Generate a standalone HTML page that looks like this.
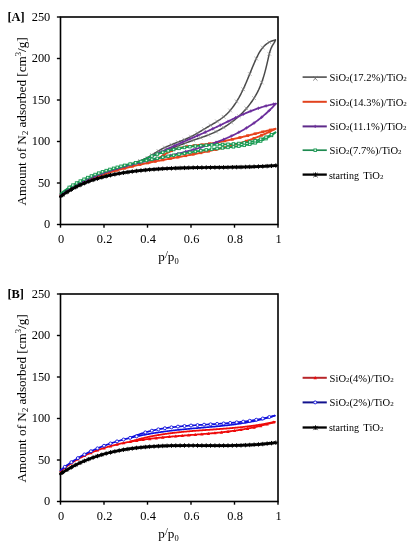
<!DOCTYPE html>
<html><head><meta charset="utf-8"><style>
html,body{margin:0;padding:0;background:#fff;}
body{width:413px;height:550px;overflow:hidden;}
svg{display:block;filter:blur(0.3px);}
text{font-family:"Liberation Serif","Times New Roman",serif;fill:#000;}
.tk{font-size:12.4px;}
.ax{font-size:13.2px;}
.sub{font-size:8.5px;}
.sup{font-size:8.5px;}
.sup2{font-size:10.5px;}
.tag{font-size:12.4px;font-weight:bold;}
.lg{font-size:10.55px;}
.ls{font-size:7px;}
</style></head><body>
<svg width="413" height="550" viewBox="0 0 413 550">
<rect width="413" height="550" fill="#fff"/>
<rect x="60.5" y="17.0" width="217.5" height="207.5" fill="none" stroke="#000" stroke-width="1.6"/>
<line x1="56.9" y1="224.5" x2="60.5" y2="224.5" stroke="#000" stroke-width="1.4"/>
<text x="50.3" y="228.10" text-anchor="end" class="tk">0</text>
<line x1="56.9" y1="183.0" x2="60.5" y2="183.0" stroke="#000" stroke-width="1.4"/>
<text x="50.3" y="186.60" text-anchor="end" class="tk">50</text>
<line x1="56.9" y1="141.5" x2="60.5" y2="141.5" stroke="#000" stroke-width="1.4"/>
<text x="50.3" y="145.10" text-anchor="end" class="tk">100</text>
<line x1="56.9" y1="100.0" x2="60.5" y2="100.0" stroke="#000" stroke-width="1.4"/>
<text x="50.3" y="103.60" text-anchor="end" class="tk">150</text>
<line x1="56.9" y1="58.5" x2="60.5" y2="58.5" stroke="#000" stroke-width="1.4"/>
<text x="50.3" y="62.10" text-anchor="end" class="tk">200</text>
<line x1="56.9" y1="17.0" x2="60.5" y2="17.0" stroke="#000" stroke-width="1.4"/>
<text x="50.3" y="20.60" text-anchor="end" class="tk">250</text>
<line x1="60.50" y1="224.5" x2="60.50" y2="227.7" stroke="#000" stroke-width="1.4"/>
<text x="60.50" y="242.80" dx="0.6" text-anchor="middle" class="tk">0</text>
<line x1="104.00" y1="224.5" x2="104.00" y2="227.7" stroke="#000" stroke-width="1.4"/>
<text x="104.00" y="242.80" dx="0.6" text-anchor="middle" class="tk">0.2</text>
<line x1="147.50" y1="224.5" x2="147.50" y2="227.7" stroke="#000" stroke-width="1.4"/>
<text x="147.50" y="242.80" dx="0.6" text-anchor="middle" class="tk">0.4</text>
<line x1="191.00" y1="224.5" x2="191.00" y2="227.7" stroke="#000" stroke-width="1.4"/>
<text x="191.00" y="242.80" dx="0.6" text-anchor="middle" class="tk">0.6</text>
<line x1="234.50" y1="224.5" x2="234.50" y2="227.7" stroke="#000" stroke-width="1.4"/>
<text x="234.50" y="242.80" dx="0.6" text-anchor="middle" class="tk">0.8</text>
<line x1="278.00" y1="224.5" x2="278.00" y2="227.7" stroke="#000" stroke-width="1.4"/>
<text x="278.00" y="242.80" dx="0.6" text-anchor="middle" class="tk">1</text>
<text x="158.3" y="260.90" class="ax">p<tspan class="sup2" dy="-2.6">/</tspan><tspan dy="2.6">p</tspan><tspan class="sub" dy="2.6">0</tspan></text>
<text transform="translate(25.9,121.35) rotate(-90)" text-anchor="middle" class="ax">Amount of N<tspan class="sub" dy="2.2">2</tspan><tspan dy="-2.2"> adsorbed [cm</tspan><tspan class="sup" dy="-4.6">3</tspan><tspan dy="4.6">/g]</tspan></text>
<text x="7.4" y="21.40" class="tag">[A]</text>
<polyline points="60.50,195.03 61.46,194.16 62.44,193.31 63.43,192.49 64.45,191.70 65.47,190.93 66.51,190.19 67.57,189.47 68.64,188.77 69.72,188.09 70.82,187.43 71.92,186.80 73.04,186.18 74.17,185.58 75.31,184.99 76.45,184.42 77.61,183.87 78.77,183.32 79.95,182.80 81.13,182.28 82.31,181.78 83.50,181.28 84.70,180.80 85.90,180.32 87.10,179.85 88.31,179.39 89.52,178.93 90.73,178.48 91.95,178.03 93.16,177.59 94.38,177.14 95.59,176.70 96.81,176.26 98.03,175.82 99.25,175.39 100.46,174.95 101.68,174.52 102.90,174.08 104.12,173.65 105.33,173.22 106.55,172.79 107.77,172.36 108.99,171.94 110.20,171.51 111.42,171.08 112.64,170.65 113.86,170.23 115.07,169.80 116.29,169.37 117.51,168.95 118.72,168.52 119.94,168.09 121.15,167.66 122.37,167.24 123.58,166.81 124.80,166.38 126.01,165.95 127.22,165.51 128.44,165.08 129.65,164.64 130.86,164.21 132.07,163.77 133.28,163.33 134.49,162.89 135.70,162.45 136.90,162.00 138.11,161.55 139.31,161.10 140.52,160.65 141.72,160.20 142.92,159.74 144.12,159.28 145.32,158.82 146.52,158.36 147.72,157.89 148.92,157.42 150.11,156.95 151.31,156.48 152.51,156.01 153.70,155.53 154.89,155.06 156.09,154.58 157.28,154.10 158.48,153.63 159.67,153.15 160.87,152.67 162.06,152.19 163.25,151.71 164.45,151.24 165.64,150.76 166.84,150.28 168.03,149.80 169.23,149.33 170.43,148.85 171.63,148.38 172.82,147.91 174.02,147.44 175.22,146.97 176.42,146.50 177.63,146.04 178.83,145.57 180.03,145.11 181.24,144.65 182.45,144.20 183.66,143.75 184.87,143.30 186.08,142.85 187.29,142.41 188.51,141.97 189.72,141.53 190.94,141.10 192.16,140.67 193.39,140.25 194.61,139.82 195.84,139.41 197.06,138.99 198.29,138.57 199.51,138.15 200.74,137.73 201.96,137.30 203.18,136.87 204.40,136.44 205.61,135.99 206.82,135.54 208.03,135.08 209.23,134.60 210.42,134.12 211.61,133.62 212.79,133.10 213.96,132.57 215.13,132.03 216.28,131.47 217.43,130.90 218.58,130.32 219.71,129.72 220.84,129.11 221.96,128.48 223.07,127.84 224.17,127.18 225.26,126.51 226.34,125.82 227.42,125.13 228.48,124.41 229.53,123.69 230.58,122.94 231.61,122.19 232.64,121.42 233.65,120.63 234.66,119.84 235.65,119.02 236.63,118.20 237.60,117.36 238.56,116.50 239.51,115.63 240.45,114.75 241.38,113.85 242.29,112.94 243.19,112.01 244.08,111.07 244.96,110.12 245.82,109.15 246.67,108.17 247.51,107.17 248.33,106.17 249.14,105.15 249.93,104.11 250.71,103.07 251.47,102.01 252.21,100.95 252.94,99.87 253.65,98.78 254.35,97.68 255.02,96.57 255.68,95.46 256.31,94.33 256.93,93.20 257.52,92.05 258.10,90.90 258.66,89.75 259.19,88.58 259.71,87.41 260.21,86.23 260.69,85.05 261.15,83.86 261.60,82.66 262.04,81.46 262.46,80.25 262.86,79.04 263.25,77.82 263.63,76.60 264.00,75.37 264.36,74.14 264.71,72.91 265.05,71.67 265.38,70.43 265.70,69.18 266.01,67.94 266.32,66.69 266.62,65.44 266.92,64.18 267.21,62.93 267.50,61.67 267.79,60.41 268.07,59.16 268.35,57.90 268.63,56.64 268.92,55.38 269.22,54.13 269.55,52.88 269.90,51.65 270.28,50.42 270.71,49.22 271.19,48.03 271.73,46.86 272.33,45.71 273.00,44.59 273.72,43.48 274.40,42.37 274.98,41.21 275.39,39.99" fill="none" stroke="#4a4a4a" stroke-width="1.5" stroke-linejoin="round" stroke-linecap="round"/>
<polyline points="138.80,161.30 139.65,161.04 140.48,160.77 141.31,160.47 142.12,160.15 142.93,159.82 143.72,159.47 144.51,159.10 145.29,158.72 146.07,158.32 146.83,157.92 147.59,157.50 148.35,157.07 149.10,156.63 149.85,156.19 150.59,155.74 151.33,155.29 152.07,154.83 152.81,154.36 153.54,153.90 154.28,153.44 155.02,152.97 155.75,152.51 156.49,152.05 157.24,151.60 157.98,151.15 158.73,150.71 159.48,150.28 160.24,149.85 161.00,149.44 161.77,149.03 162.54,148.63 163.32,148.24 164.10,147.86 164.88,147.49 165.67,147.13 166.47,146.77 167.26,146.41 168.06,146.07 168.86,145.73 169.67,145.39 170.48,145.06 171.29,144.73 172.10,144.40 172.91,144.08 173.72,143.76 174.54,143.44 175.36,143.13 176.17,142.81 176.99,142.50 177.81,142.18 178.63,141.87 179.44,141.55 180.26,141.23 181.08,140.92 181.89,140.60 182.71,140.27 183.52,139.95 184.33,139.62 185.14,139.28 185.94,138.94 186.75,138.60 187.55,138.25 188.34,137.90 189.14,137.54 189.93,137.17 190.72,136.79 191.50,136.41 192.28,136.02 193.06,135.62 193.83,135.21 194.59,134.79 195.35,134.37 196.11,133.94 196.87,133.50 197.62,133.06 198.38,132.62 199.13,132.17 199.87,131.72 200.62,131.26 201.37,130.81 202.11,130.35 202.86,129.89 203.60,129.43 204.35,128.98 205.10,128.52 205.85,128.07 206.60,127.62 207.35,127.17 208.11,126.73 208.86,126.29 209.62,125.86 210.38,125.42 211.14,124.99 211.90,124.55 212.66,124.12 213.41,123.68 214.17,123.24 214.92,122.80 215.66,122.35 216.41,121.89 217.15,121.43 217.88,120.96 218.61,120.48 219.33,120.00 220.05,119.51 220.76,119.01 221.46,118.50 222.16,117.98 222.85,117.45 223.53,116.91 224.20,116.36 224.86,115.80 225.52,115.22 226.16,114.63 226.80,114.03 227.42,113.42 228.04,112.79 228.64,112.15 229.24,111.50 229.82,110.83 230.39,110.16 230.96,109.48 231.51,108.79 232.06,108.09 232.59,107.39 233.12,106.68 233.64,105.97 234.14,105.25 234.64,104.53 235.13,103.81 235.62,103.08 236.09,102.35 236.56,101.61 237.02,100.87 237.47,100.12 237.92,99.37 238.35,98.62 238.79,97.87 239.21,97.11 239.63,96.35 240.04,95.58 240.45,94.81 240.85,94.04 241.25,93.27 241.64,92.49 242.02,91.71 242.40,90.93 242.78,90.14 243.15,89.36 243.52,88.57 243.88,87.78 244.24,86.98 244.60,86.19 244.95,85.39 245.30,84.59 245.65,83.79 246.00,82.99 246.34,82.19 246.68,81.38 247.02,80.57 247.35,79.77 247.69,78.96 248.02,78.15 248.36,77.34 248.69,76.53 249.02,75.72 249.35,74.90 249.68,74.09 250.01,73.28 250.34,72.47 250.67,71.65 251.01,70.84 251.34,70.02 251.67,69.21 252.01,68.40 252.34,67.58 252.68,66.77 253.02,65.96 253.36,65.15 253.71,64.34 254.05,63.53 254.40,62.72 254.76,61.91 255.11,61.10 255.47,60.30 255.83,59.49 256.20,58.69 256.57,57.89 256.95,57.10 257.34,56.30 257.73,55.52 258.13,54.74 258.54,53.97 258.96,53.21 259.39,52.45 259.83,51.71 260.29,50.98 260.76,50.26 261.24,49.56 261.75,48.87 262.26,48.20 262.80,47.55 263.35,46.91 263.92,46.29 264.51,45.69 265.12,45.12 265.76,44.56 266.42,44.03 267.10,43.52 267.80,43.04 268.53,42.58 269.29,42.15 270.07,41.75 270.89,41.38 271.73,41.04 272.60,40.73 273.50,40.45 274.43,40.20 275.40,39.99" fill="none" stroke="#4a4a4a" stroke-width="1.5" stroke-linejoin="round" stroke-linecap="round"/>
<path d="M69.47,185.21L73.28,189.01M69.47,189.01L73.28,185.21" stroke="#8a8a8a" stroke-width="0.6"/>
<path d="M77.09,181.33L80.89,185.13M77.09,185.13L80.89,181.33" stroke="#8a8a8a" stroke-width="0.6"/>
<path d="M84.70,178.15L88.50,181.95M84.70,181.95L88.50,178.15" stroke="#8a8a8a" stroke-width="0.6"/>
<path d="M92.31,175.30L96.11,179.10M92.31,179.10L96.11,175.30" stroke="#8a8a8a" stroke-width="0.6"/>
<path d="M99.92,172.57L103.73,176.37M99.92,176.37L103.73,172.57" stroke="#8a8a8a" stroke-width="0.6"/>
<path d="M107.54,169.88L111.34,173.68M107.54,173.68L111.34,169.88" stroke="#8a8a8a" stroke-width="0.6"/>
<path d="M115.15,167.21L118.95,171.01M115.15,171.01L118.95,167.21" stroke="#8a8a8a" stroke-width="0.6"/>
<path d="M122.76,164.52L126.56,168.32M122.76,168.32L126.56,164.52" stroke="#8a8a8a" stroke-width="0.6"/>
<path d="M130.38,161.80L134.18,165.60M130.38,165.60L134.18,161.80" stroke="#8a8a8a" stroke-width="0.6"/>
<path d="M137.99,158.99L141.79,162.79M137.99,162.79L141.79,158.99" stroke="#8a8a8a" stroke-width="0.6"/>
<path d="M145.60,156.07L149.40,159.87M145.60,159.87L149.40,156.07" stroke="#8a8a8a" stroke-width="0.6"/>
<path d="M153.21,153.07L157.01,156.87M153.21,156.87L157.01,153.07" stroke="#8a8a8a" stroke-width="0.6"/>
<path d="M160.83,150.03L164.63,153.83M160.83,153.83L164.63,150.03" stroke="#8a8a8a" stroke-width="0.6"/>
<path d="M168.44,146.99L172.24,150.79M168.44,150.79L172.24,146.99" stroke="#8a8a8a" stroke-width="0.6"/>
<path d="M176.05,144.01L179.85,147.81M176.05,147.81L179.85,144.01" stroke="#8a8a8a" stroke-width="0.6"/>
<path d="M183.66,141.14L187.46,144.94M183.66,144.94L187.46,141.14" stroke="#8a8a8a" stroke-width="0.6"/>
<path d="M191.28,138.42L195.08,142.22M191.28,142.22L195.08,138.42" stroke="#8a8a8a" stroke-width="0.6"/>
<path d="M198.89,135.81L202.69,139.61M198.89,139.61L202.69,135.81" stroke="#8a8a8a" stroke-width="0.6"/>
<path d="M206.50,133.03L210.30,136.83M206.50,136.83L210.30,133.03" stroke="#8a8a8a" stroke-width="0.6"/>
<path d="M214.11,129.70L217.91,133.50M214.11,133.50L217.91,129.70" stroke="#8a8a8a" stroke-width="0.6"/>
<path d="M221.73,125.60L225.53,129.40M221.73,129.40L225.53,125.60" stroke="#8a8a8a" stroke-width="0.6"/>
<path d="M229.34,120.56L233.14,124.36M229.34,124.36L233.14,120.56" stroke="#8a8a8a" stroke-width="0.6"/>
<path d="M236.95,114.34L240.75,118.14M236.95,118.14L240.75,114.34" stroke="#8a8a8a" stroke-width="0.6"/>
<path d="M244.56,106.51L248.36,110.31M244.56,110.31L248.36,106.51" stroke="#8a8a8a" stroke-width="0.6"/>
<path d="M252.18,96.21L255.98,100.01M252.18,100.01L255.98,96.21" stroke="#8a8a8a" stroke-width="0.6"/>
<path d="M259.79,80.53L263.59,84.33M259.79,84.33L263.59,80.53" stroke="#8a8a8a" stroke-width="0.6"/>
<path d="M267.40,51.93L271.20,55.73M267.40,55.73L271.20,51.93" stroke="#8a8a8a" stroke-width="0.6"/>
<path d="M149.95,153.06L153.75,156.86M149.95,156.86L153.75,153.06" stroke="#8a8a8a" stroke-width="0.6"/>
<path d="M156.47,149.02L160.28,152.82M156.47,152.82L160.28,149.02" stroke="#8a8a8a" stroke-width="0.6"/>
<path d="M163.00,145.58L166.80,149.38M163.00,149.38L166.80,145.58" stroke="#8a8a8a" stroke-width="0.6"/>
<path d="M169.52,142.77L173.32,146.57M169.52,146.57L173.32,142.77" stroke="#8a8a8a" stroke-width="0.6"/>
<path d="M176.05,140.23L179.85,144.03M176.05,144.03L179.85,140.23" stroke="#8a8a8a" stroke-width="0.6"/>
<path d="M182.57,137.66L186.37,141.46M182.57,141.46L186.37,137.66" stroke="#8a8a8a" stroke-width="0.6"/>
<path d="M189.10,134.75L192.90,138.55M189.10,138.55L192.90,134.75" stroke="#8a8a8a" stroke-width="0.6"/>
<path d="M195.62,131.22L199.42,135.02M195.62,135.02L199.42,131.22" stroke="#8a8a8a" stroke-width="0.6"/>
<path d="M202.15,127.26L205.95,131.06M202.15,131.06L205.95,127.26" stroke="#8a8a8a" stroke-width="0.6"/>
<path d="M208.67,123.41L212.47,127.21M208.67,127.21L212.47,123.41" stroke="#8a8a8a" stroke-width="0.6"/>
<path d="M215.20,119.56L219.00,123.36M215.20,123.36L219.00,119.56" stroke="#8a8a8a" stroke-width="0.6"/>
<path d="M221.72,114.93L225.52,118.73M221.72,118.73L225.52,114.93" stroke="#8a8a8a" stroke-width="0.6"/>
<path d="M228.25,108.55L232.05,112.35M228.25,112.35L232.05,108.55" stroke="#8a8a8a" stroke-width="0.6"/>
<path d="M234.77,99.52L238.57,103.32M234.77,103.32L238.57,99.52" stroke="#8a8a8a" stroke-width="0.6"/>
<path d="M241.30,87.35L245.10,91.15M241.30,91.15L245.10,87.35" stroke="#8a8a8a" stroke-width="0.6"/>
<path d="M247.82,72.08L251.62,75.88M247.82,75.88L251.62,72.08" stroke="#8a8a8a" stroke-width="0.6"/>
<path d="M254.35,56.69L258.15,60.49M254.35,60.49L258.15,56.69" stroke="#8a8a8a" stroke-width="0.6"/>
<path d="M260.87,45.67L264.67,49.47M260.87,49.47L264.67,45.67" stroke="#8a8a8a" stroke-width="0.6"/>
<path d="M267.40,40.25L271.20,44.05M267.40,44.05L271.20,40.25" stroke="#8a8a8a" stroke-width="0.6"/>
<polyline points="60.45,195.40 61.32,194.82 62.20,194.25 63.08,193.68 63.96,193.12 64.84,192.57 65.73,192.02 66.61,191.48 67.51,190.95 68.40,190.42 69.29,189.90 70.19,189.39 71.09,188.88 72.00,188.37 72.90,187.88 73.81,187.38 74.72,186.90 75.63,186.42 76.54,185.94 77.46,185.48 78.38,185.01 79.30,184.56 80.22,184.10 81.15,183.66 82.07,183.22 83.00,182.78 83.94,182.35 84.87,181.92 85.80,181.50 86.74,181.09 87.68,180.68 88.62,180.27 89.57,179.87 90.51,179.48 91.46,179.09 92.41,178.70 93.36,178.32 94.31,177.94 95.27,177.57 96.22,177.20 97.18,176.84 98.14,176.48 99.10,176.13 100.06,175.78 101.03,175.43 102.00,175.09 102.96,174.75 103.93,174.42 104.90,174.09 105.88,173.77 106.85,173.44 107.83,173.13 108.81,172.81 109.78,172.50 110.76,172.20 111.75,171.89 112.73,171.60 113.71,171.30 114.70,171.01 115.69,170.72 116.68,170.43 117.67,170.15 118.66,169.87 119.65,169.60 120.64,169.32 121.64,169.05 122.63,168.79 123.63,168.52 124.63,168.26 125.63,168.00 126.63,167.75 127.63,167.50 128.63,167.25 129.64,167.00 130.64,166.75 131.65,166.51 132.65,166.27 133.66,166.03 134.67,165.80 135.68,165.57 136.69,165.34 137.70,165.11 138.71,164.88 139.73,164.66 140.74,164.43 141.75,164.21 142.77,163.99 143.78,163.78 144.80,163.56 145.82,163.35 146.83,163.14 147.85,162.93 148.87,162.72 149.89,162.51 150.91,162.30 151.93,162.10 152.95,161.90 153.97,161.69 155.00,161.49 156.02,161.29 157.04,161.10 158.07,160.90 159.09,160.70 160.11,160.51 161.14,160.31 162.16,160.12 163.19,159.92 164.21,159.73 165.24,159.54 166.26,159.35 167.29,159.16 168.32,158.97 169.34,158.78 170.37,158.59 171.40,158.40 172.42,158.21 173.45,158.02 174.48,157.83 175.50,157.64 176.53,157.45 177.56,157.26 178.58,157.07 179.61,156.88 180.64,156.70 181.66,156.51 182.69,156.32 183.72,156.12 184.74,155.93 185.77,155.74 186.79,155.55 187.82,155.36 188.84,155.16 189.87,154.97 190.89,154.78 191.92,154.58 192.94,154.38 193.96,154.19 194.99,153.99 196.01,153.79 197.03,153.59 198.05,153.38 199.08,153.18 200.10,152.98 201.12,152.77 202.14,152.56 203.15,152.35 204.17,152.14 205.19,151.93 206.21,151.72 207.22,151.50 208.24,151.29 209.26,151.07 210.27,150.85 211.28,150.62 212.30,150.40 213.31,150.17 214.32,149.94 215.33,149.71 216.34,149.48 217.35,149.24 218.36,149.01 219.36,148.77 220.37,148.52 221.37,148.28 222.38,148.03 223.38,147.78 224.38,147.53 225.38,147.27 226.38,147.02 227.38,146.75 228.38,146.49 229.38,146.22 230.37,145.95 231.36,145.68 232.36,145.40 233.35,145.13 234.34,144.84 235.33,144.56 236.32,144.27 237.30,143.98 238.29,143.68 239.27,143.38 240.25,143.08 241.23,142.77 242.21,142.46 243.19,142.15 244.17,141.83 245.14,141.51 246.11,141.18 247.09,140.85 248.06,140.52 249.02,140.18 249.99,139.84 250.96,139.49 251.92,139.14 252.88,138.79 253.84,138.43 254.80,138.07 255.76,137.70 256.71,137.33 257.67,136.95 258.62,136.57 259.57,136.18 260.51,135.79 261.46,135.40 262.40,134.99 263.35,134.59 264.29,134.18 265.22,133.76 266.16,133.34 267.09,132.92 268.03,132.49 268.96,132.05 269.88,131.61 270.81,131.16 271.73,130.71 272.65,130.25 273.57,129.79 274.49,129.32 275.40,128.84" fill="none" stroke="#e8441c" stroke-width="1.9" stroke-linejoin="round" stroke-linecap="round"/>
<polyline points="148.61,162.82 149.17,162.64 149.72,162.46 150.27,162.26 150.81,162.05 151.36,161.83 151.89,161.61 152.43,161.37 152.96,161.13 153.48,160.88 154.01,160.62 154.53,160.36 155.05,160.09 155.57,159.81 156.08,159.53 156.60,159.24 157.11,158.95 157.62,158.66 158.13,158.36 158.64,158.07 159.14,157.76 159.65,157.46 160.16,157.15 160.66,156.84 161.17,156.54 161.67,156.23 162.18,155.92 162.68,155.61 163.19,155.30 163.70,154.99 164.20,154.69 164.71,154.38 165.22,154.08 165.73,153.78 166.25,153.49 166.76,153.20 167.28,152.91 167.79,152.63 168.31,152.35 168.84,152.07 169.36,151.80 169.89,151.54 170.42,151.29 170.95,151.04 171.49,150.79 172.03,150.56 172.57,150.33 173.11,150.11 173.66,149.90 174.22,149.69 174.77,149.49 175.33,149.30 175.89,149.11 176.45,148.93 177.02,148.76 177.58,148.59 178.15,148.42 178.73,148.27 179.30,148.11 179.88,147.96 180.46,147.82 181.04,147.68 181.63,147.55 182.21,147.42 182.80,147.30 183.39,147.18 183.98,147.06 184.58,146.95 185.17,146.84 185.77,146.74 186.37,146.63 186.97,146.54 187.57,146.44 188.17,146.35 188.77,146.26 189.38,146.17 189.98,146.09 190.59,146.00 191.20,145.92 191.81,145.85 192.42,145.77 193.03,145.69 193.64,145.62 194.25,145.55 194.86,145.48 195.47,145.41 196.09,145.34 196.70,145.27 197.31,145.20 197.93,145.13 198.54,145.06 199.16,144.99 199.77,144.92 200.39,144.86 201.00,144.79 201.61,144.72 202.23,144.65 202.84,144.57 203.45,144.50 204.06,144.43 204.68,144.35 205.29,144.27 205.90,144.19 206.51,144.11 207.12,144.03 207.72,143.95 208.33,143.86 208.94,143.77 209.55,143.68 210.15,143.59 210.76,143.50 211.36,143.41 211.97,143.31 212.57,143.22 213.18,143.12 213.78,143.02 214.38,142.92 214.98,142.82 215.58,142.71 216.19,142.61 216.79,142.50 217.39,142.39 217.99,142.28 218.58,142.17 219.18,142.06 219.78,141.95 220.38,141.84 220.98,141.72 221.57,141.61 222.17,141.49 222.77,141.37 223.36,141.25 223.96,141.13 224.55,141.01 225.15,140.89 225.74,140.76 226.34,140.64 226.93,140.51 227.52,140.39 228.12,140.26 228.71,140.13 229.30,140.00 229.89,139.87 230.49,139.74 231.08,139.61 231.67,139.47 232.26,139.34 232.85,139.21 233.44,139.07 234.03,138.93 234.62,138.80 235.21,138.66 235.80,138.52 236.39,138.38 236.98,138.25 237.57,138.11 238.16,137.97 238.75,137.82 239.34,137.68 239.93,137.54 240.52,137.40 241.11,137.25 241.70,137.11 242.29,136.97 242.87,136.82 243.46,136.68 244.05,136.53 244.64,136.39 245.23,136.24 245.82,136.09 246.40,135.95 246.99,135.80 247.58,135.65 248.17,135.51 248.76,135.36 249.35,135.21 249.93,135.06 250.52,134.92 251.11,134.77 251.70,134.62 252.29,134.47 252.88,134.32 253.47,134.17 254.05,134.02 254.64,133.87 255.23,133.73 255.82,133.58 256.41,133.43 257.00,133.28 257.59,133.13 258.18,132.98 258.77,132.83 259.36,132.69 259.95,132.54 260.54,132.39 261.13,132.24 261.72,132.10 262.31,131.95 262.91,131.80 263.50,131.65 264.09,131.51 264.68,131.36 265.27,131.22 265.87,131.07 266.46,130.93 267.05,130.78 267.65,130.64 268.24,130.49 268.83,130.35 269.43,130.21 270.02,130.06 270.62,129.92 271.21,129.78 271.81,129.64 272.41,129.50 273.00,129.36 273.60,129.22 274.20,129.08 274.80,128.95 275.39,128.81" fill="none" stroke="#e8441c" stroke-width="1.9" stroke-linejoin="round" stroke-linecap="round"/>
<path d="M69.88,188.72H72.88" stroke="#e8441c" stroke-width="2.6"/>
<path d="M77.49,184.71H80.49" stroke="#e8441c" stroke-width="2.6"/>
<path d="M85.10,181.15H88.10" stroke="#e8441c" stroke-width="2.6"/>
<path d="M92.71,177.98H95.71" stroke="#e8441c" stroke-width="2.6"/>
<path d="M100.33,175.15H103.33" stroke="#e8441c" stroke-width="2.6"/>
<path d="M107.94,172.61H110.94" stroke="#e8441c" stroke-width="2.6"/>
<path d="M115.55,170.33H118.55" stroke="#e8441c" stroke-width="2.6"/>
<path d="M123.16,168.25H126.16" stroke="#e8441c" stroke-width="2.6"/>
<path d="M130.78,166.36H133.78" stroke="#e8441c" stroke-width="2.6"/>
<path d="M138.39,164.62H141.39" stroke="#e8441c" stroke-width="2.6"/>
<path d="M146.00,163.00H149.00" stroke="#e8441c" stroke-width="2.6"/>
<path d="M153.61,161.47H156.61" stroke="#e8441c" stroke-width="2.6"/>
<path d="M161.23,160.01H164.23" stroke="#e8441c" stroke-width="2.6"/>
<path d="M168.84,158.59H171.84" stroke="#e8441c" stroke-width="2.6"/>
<path d="M176.45,157.19H179.45" stroke="#e8441c" stroke-width="2.6"/>
<path d="M184.06,155.78H187.06" stroke="#e8441c" stroke-width="2.6"/>
<path d="M191.68,154.34H194.68" stroke="#e8441c" stroke-width="2.6"/>
<path d="M199.29,152.84H202.29" stroke="#e8441c" stroke-width="2.6"/>
<path d="M206.90,151.25H209.90" stroke="#e8441c" stroke-width="2.6"/>
<path d="M214.51,149.56H217.51" stroke="#e8441c" stroke-width="2.6"/>
<path d="M222.13,147.72H225.13" stroke="#e8441c" stroke-width="2.6"/>
<path d="M229.74,145.72H232.74" stroke="#e8441c" stroke-width="2.6"/>
<path d="M237.35,143.51H240.35" stroke="#e8441c" stroke-width="2.6"/>
<path d="M244.96,141.06H247.96" stroke="#e8441c" stroke-width="2.6"/>
<path d="M252.58,138.34H255.58" stroke="#e8441c" stroke-width="2.6"/>
<path d="M260.19,135.30H263.19" stroke="#e8441c" stroke-width="2.6"/>
<path d="M267.80,131.89H270.80" stroke="#e8441c" stroke-width="2.6"/>
<path d="M162.31,154.92H165.31" stroke="#e8441c" stroke-width="2.6"/>
<path d="M169.93,150.82H172.93" stroke="#e8441c" stroke-width="2.6"/>
<path d="M177.54,148.18H180.54" stroke="#e8441c" stroke-width="2.6"/>
<path d="M185.15,146.59H188.15" stroke="#e8441c" stroke-width="2.6"/>
<path d="M192.76,145.55H195.76" stroke="#e8441c" stroke-width="2.6"/>
<path d="M200.37,144.69H203.37" stroke="#e8441c" stroke-width="2.6"/>
<path d="M207.99,143.69H210.99" stroke="#e8441c" stroke-width="2.6"/>
<path d="M215.60,142.44H218.60" stroke="#e8441c" stroke-width="2.6"/>
<path d="M223.21,140.98H226.21" stroke="#e8441c" stroke-width="2.6"/>
<path d="M230.82,139.33H233.82" stroke="#e8441c" stroke-width="2.6"/>
<path d="M238.44,137.54H241.44" stroke="#e8441c" stroke-width="2.6"/>
<path d="M246.05,135.66H249.05" stroke="#e8441c" stroke-width="2.6"/>
<path d="M253.66,133.74H256.66" stroke="#e8441c" stroke-width="2.6"/>
<path d="M261.27,131.83H264.27" stroke="#e8441c" stroke-width="2.6"/>
<path d="M268.89,129.98H271.89" stroke="#e8441c" stroke-width="2.6"/>
<polyline points="60.48,195.01 61.37,194.38 62.25,193.75 63.14,193.13 64.04,192.51 64.94,191.91 65.84,191.31 66.75,190.72 67.66,190.14 68.57,189.56 69.49,189.00 70.41,188.44 71.33,187.88 72.26,187.34 73.19,186.80 74.12,186.27 75.06,185.74 76.00,185.22 76.94,184.71 77.89,184.21 78.84,183.71 79.79,183.21 80.75,182.73 81.71,182.25 82.67,181.78 83.63,181.31 84.60,180.85 85.57,180.39 86.54,179.94 87.52,179.50 88.49,179.06 89.48,178.63 90.46,178.20 91.44,177.78 92.43,177.36 93.42,176.95 94.42,176.55 95.41,176.14 96.41,175.75 97.41,175.36 98.41,174.97 99.42,174.59 100.43,174.21 101.44,173.84 102.45,173.47 103.46,173.11 104.48,172.75 105.49,172.40 106.51,172.05 107.53,171.70 108.56,171.36 109.58,171.02 110.61,170.69 111.64,170.36 112.67,170.03 113.70,169.71 114.74,169.39 115.77,169.07 116.81,168.76 117.85,168.45 118.89,168.14 119.93,167.84 120.97,167.54 122.01,167.24 123.06,166.95 124.11,166.66 125.16,166.37 126.20,166.08 127.25,165.80 128.31,165.52 129.36,165.24 130.41,164.96 131.47,164.69 132.52,164.42 133.58,164.15 134.64,163.88 135.70,163.61 136.75,163.35 137.81,163.08 138.87,162.82 139.94,162.56 141.00,162.30 142.06,162.05 143.12,161.79 144.19,161.54 145.25,161.28 146.32,161.03 147.38,160.78 148.45,160.53 149.51,160.28 150.58,160.03 151.64,159.78 152.71,159.54 153.78,159.29 154.84,159.04 155.91,158.80 156.98,158.55 158.04,158.30 159.11,158.06 160.18,157.81 161.24,157.57 162.31,157.32 163.38,157.07 164.44,156.83 165.51,156.58 166.57,156.33 167.64,156.08 168.70,155.83 169.77,155.58 170.83,155.33 171.89,155.08 172.96,154.83 174.02,154.57 175.08,154.32 176.14,154.06 177.20,153.80 178.26,153.55 179.32,153.28 180.38,153.02 181.43,152.76 182.49,152.49 183.54,152.23 184.60,151.96 185.65,151.68 186.70,151.41 187.75,151.13 188.80,150.86 189.85,150.58 190.90,150.29 191.94,150.01 192.99,149.72 194.03,149.43 195.07,149.14 196.11,148.84 197.15,148.54 198.19,148.24 199.23,147.93 200.26,147.63 201.29,147.31 202.32,147.00 203.35,146.68 204.38,146.36 205.41,146.03 206.43,145.71 207.45,145.37 208.47,145.04 209.49,144.70 210.51,144.35 211.52,144.00 212.53,143.65 213.54,143.29 214.55,142.93 215.56,142.57 216.56,142.20 217.56,141.82 218.56,141.44 219.55,141.06 220.55,140.67 221.54,140.27 222.53,139.88 223.52,139.47 224.50,139.06 225.48,138.65 226.46,138.23 227.44,137.80 228.41,137.37 229.38,136.94 230.35,136.49 231.31,136.05 232.28,135.59 233.23,135.13 234.19,134.67 235.14,134.20 236.09,133.72 237.04,133.24 237.99,132.75 238.93,132.25 239.86,131.75 240.80,131.24 241.73,130.72 242.66,130.20 243.58,129.67 244.50,129.13 245.42,128.59 246.34,128.04 247.25,127.48 248.15,126.92 249.06,126.35 249.96,125.77 250.85,125.18 251.75,124.59 252.64,123.98 253.52,123.37 254.40,122.76 255.28,122.13 256.15,121.50 257.02,120.86 257.89,120.21 258.75,119.55 259.61,118.88 260.46,118.21 261.31,117.52 262.15,116.83 263.00,116.13 263.83,115.42 264.66,114.71 265.49,113.98 266.32,113.24 267.13,112.50 267.95,111.75 268.76,110.98 269.56,110.21 270.37,109.43 271.16,108.64 271.95,107.84 272.74,107.03 273.52,106.21 274.30,105.38 275.07,104.54 275.84,103.69" fill="none" stroke="#6c2e9c" stroke-width="1.75" stroke-linejoin="round" stroke-linecap="round"/>
<polyline points="138.83,162.90 139.42,162.59 140.01,162.29 140.60,161.98 141.20,161.67 141.79,161.36 142.38,161.06 142.98,160.75 143.57,160.45 144.17,160.15 144.77,159.84 145.37,159.54 145.97,159.24 146.56,158.94 147.16,158.64 147.77,158.34 148.37,158.04 148.97,157.74 149.57,157.44 150.18,157.14 150.78,156.85 151.39,156.55 151.99,156.25 152.60,155.96 153.21,155.66 153.81,155.37 154.42,155.08 155.03,154.78 155.64,154.49 156.25,154.20 156.86,153.91 157.47,153.61 158.08,153.32 158.70,153.03 159.31,152.74 159.92,152.45 160.54,152.17 161.15,151.88 161.77,151.59 162.38,151.30 163.00,151.01 163.61,150.73 164.23,150.44 164.85,150.16 165.47,149.87 166.08,149.59 166.70,149.30 167.32,149.02 167.94,148.73 168.56,148.45 169.18,148.17 169.80,147.89 170.43,147.60 171.05,147.32 171.67,147.04 172.29,146.76 172.91,146.48 173.54,146.20 174.16,145.92 174.79,145.64 175.41,145.36 176.03,145.08 176.66,144.81 177.28,144.53 177.91,144.25 178.54,143.97 179.16,143.70 179.79,143.42 180.41,143.14 181.04,142.87 181.67,142.59 182.29,142.31 182.92,142.04 183.55,141.76 184.18,141.49 184.81,141.21 185.43,140.94 186.06,140.67 186.69,140.39 187.32,140.12 187.95,139.84 188.58,139.57 189.20,139.29 189.83,139.02 190.46,138.75 191.09,138.47 191.72,138.20 192.35,137.92 192.98,137.65 193.61,137.37 194.24,137.10 194.87,136.83 195.49,136.55 196.12,136.27 196.75,136.00 197.38,135.72 198.01,135.45 198.64,135.17 199.26,134.89 199.89,134.62 200.52,134.34 201.15,134.06 201.78,133.78 202.40,133.50 203.03,133.22 203.66,132.94 204.28,132.66 204.91,132.38 205.54,132.10 206.16,131.82 206.79,131.53 207.41,131.25 208.04,130.97 208.66,130.68 209.28,130.40 209.91,130.11 210.53,129.82 211.15,129.53 211.78,129.24 212.40,128.95 213.02,128.66 213.64,128.37 214.26,128.08 214.88,127.79 215.50,127.49 216.12,127.20 216.74,126.90 217.36,126.60 217.97,126.31 218.59,126.01 219.21,125.71 219.82,125.41 220.44,125.11 221.06,124.81 221.67,124.51 222.29,124.21 222.91,123.91 223.52,123.61 224.14,123.31 224.75,123.01 225.37,122.70 225.98,122.40 226.60,122.10 227.21,121.80 227.83,121.50 228.44,121.20 229.06,120.90 229.67,120.60 230.29,120.30 230.91,120.00 231.52,119.71 232.14,119.41 232.75,119.11 233.37,118.82 233.99,118.52 234.60,118.23 235.22,117.93 235.84,117.64 236.46,117.35 237.08,117.06 237.70,116.77 238.31,116.48 238.93,116.20 239.56,115.91 240.18,115.63 240.80,115.34 241.42,115.06 242.04,114.78 242.66,114.50 243.29,114.23 243.91,113.95 244.54,113.68 245.16,113.41 245.79,113.14 246.42,112.87 247.05,112.61 247.67,112.34 248.30,112.08 248.94,111.82 249.57,111.57 250.20,111.31 250.83,111.06 251.47,110.81 252.10,110.56 252.74,110.32 253.38,110.07 254.01,109.83 254.65,109.60 255.29,109.36 255.94,109.13 256.58,108.90 257.22,108.67 257.87,108.45 258.51,108.23 259.16,108.01 259.81,107.80 260.46,107.59 261.11,107.38 261.76,107.18 262.42,106.97 263.07,106.78 263.73,106.58 264.39,106.39 265.05,106.20 265.71,106.02 266.37,105.84 267.04,105.66 267.70,105.49 268.37,105.32 269.04,105.16 269.71,105.00 270.38,104.84 271.06,104.69 271.73,104.54 272.41,104.39 273.09,104.25 273.77,104.12 274.46,103.98 275.14,103.86 275.83,103.73" fill="none" stroke="#6c2e9c" stroke-width="1.75" stroke-linejoin="round" stroke-linecap="round"/>
<path d="M69.78,187.86H72.97M71.38,186.26V189.46" stroke="#6c2e9c" stroke-width="0.9"/>
<path d="M77.39,183.63H80.59M78.99,182.03V185.23" stroke="#6c2e9c" stroke-width="0.9"/>
<path d="M85.00,179.92H88.20M86.60,178.32V181.52" stroke="#6c2e9c" stroke-width="0.9"/>
<path d="M92.61,176.63H95.81M94.21,175.03V178.23" stroke="#6c2e9c" stroke-width="0.9"/>
<path d="M100.23,173.70H103.42M101.83,172.10V175.30" stroke="#6c2e9c" stroke-width="0.9"/>
<path d="M107.84,171.07H111.04M109.44,169.47V172.67" stroke="#6c2e9c" stroke-width="0.9"/>
<path d="M115.45,168.69H118.65M117.05,167.09V170.29" stroke="#6c2e9c" stroke-width="0.9"/>
<path d="M123.06,166.50H126.26M124.66,164.90V168.10" stroke="#6c2e9c" stroke-width="0.9"/>
<path d="M130.68,164.48H133.88M132.28,162.88V166.08" stroke="#6c2e9c" stroke-width="0.9"/>
<path d="M138.29,162.57H141.49M139.89,160.97V164.17" stroke="#6c2e9c" stroke-width="0.9"/>
<path d="M145.90,160.75H149.10M147.50,159.15V162.35" stroke="#6c2e9c" stroke-width="0.9"/>
<path d="M153.51,158.98H156.71M155.11,157.38V160.58" stroke="#6c2e9c" stroke-width="0.9"/>
<path d="M161.13,157.22H164.33M162.73,155.62V158.82" stroke="#6c2e9c" stroke-width="0.9"/>
<path d="M168.74,155.45H171.94M170.34,153.85V157.05" stroke="#6c2e9c" stroke-width="0.9"/>
<path d="M176.35,153.62H179.55M177.95,152.02V155.22" stroke="#6c2e9c" stroke-width="0.9"/>
<path d="M183.96,151.71H187.16M185.56,150.11V153.31" stroke="#6c2e9c" stroke-width="0.9"/>
<path d="M191.58,149.67H194.78M193.18,148.07V151.27" stroke="#6c2e9c" stroke-width="0.9"/>
<path d="M199.19,147.47H202.39M200.79,145.87V149.07" stroke="#6c2e9c" stroke-width="0.9"/>
<path d="M206.80,145.06H210.00M208.40,143.46V146.66" stroke="#6c2e9c" stroke-width="0.9"/>
<path d="M214.41,142.40H217.61M216.01,140.80V144.00" stroke="#6c2e9c" stroke-width="0.9"/>
<path d="M222.03,139.43H225.23M223.63,137.83V141.03" stroke="#6c2e9c" stroke-width="0.9"/>
<path d="M229.64,136.08H232.84M231.24,134.48V137.68" stroke="#6c2e9c" stroke-width="0.9"/>
<path d="M237.25,132.29H240.45M238.85,130.69V133.89" stroke="#6c2e9c" stroke-width="0.9"/>
<path d="M244.86,127.96H248.06M246.46,126.36V129.56" stroke="#6c2e9c" stroke-width="0.9"/>
<path d="M252.48,122.99H255.68M254.08,121.39V124.59" stroke="#6c2e9c" stroke-width="0.9"/>
<path d="M260.09,117.22H263.29M261.69,115.62V118.82" stroke="#6c2e9c" stroke-width="0.9"/>
<path d="M267.70,110.46H270.90M269.30,108.86V112.06" stroke="#6c2e9c" stroke-width="0.9"/>
<path d="M150.25,156.32H153.45M151.85,154.72V157.92" stroke="#6c2e9c" stroke-width="0.9"/>
<path d="M157.86,152.67H161.06M159.46,151.07V154.27" stroke="#6c2e9c" stroke-width="0.9"/>
<path d="M165.47,149.13H168.67M167.07,147.53V150.73" stroke="#6c2e9c" stroke-width="0.9"/>
<path d="M173.09,145.69H176.29M174.69,144.09V147.29" stroke="#6c2e9c" stroke-width="0.9"/>
<path d="M180.70,142.31H183.90M182.30,140.71V143.91" stroke="#6c2e9c" stroke-width="0.9"/>
<path d="M188.31,138.99H191.51M189.91,137.39V140.59" stroke="#6c2e9c" stroke-width="0.9"/>
<path d="M195.92,135.66H199.12M197.52,134.06V137.26" stroke="#6c2e9c" stroke-width="0.9"/>
<path d="M203.54,132.28H206.74M205.14,130.68V133.88" stroke="#6c2e9c" stroke-width="0.9"/>
<path d="M211.15,128.79H214.35M212.75,127.19V130.39" stroke="#6c2e9c" stroke-width="0.9"/>
<path d="M218.76,125.15H221.96M220.36,123.55V126.75" stroke="#6c2e9c" stroke-width="0.9"/>
<path d="M226.37,121.43H229.57M227.97,119.83V123.03" stroke="#6c2e9c" stroke-width="0.9"/>
<path d="M233.99,117.76H237.19M235.59,116.16V119.36" stroke="#6c2e9c" stroke-width="0.9"/>
<path d="M241.60,114.27H244.80M243.20,112.67V115.87" stroke="#6c2e9c" stroke-width="0.9"/>
<path d="M249.21,111.07H252.41M250.81,109.47V112.67" stroke="#6c2e9c" stroke-width="0.9"/>
<path d="M256.82,108.26H260.02M258.42,106.66V109.86" stroke="#6c2e9c" stroke-width="0.9"/>
<path d="M264.44,105.93H267.64M266.04,104.33V107.53" stroke="#6c2e9c" stroke-width="0.9"/>
<path d="M272.05,104.14H275.25M273.65,102.54V105.74" stroke="#6c2e9c" stroke-width="0.9"/>
<polyline points="60.46,193.59 61.26,192.96 62.07,192.35 62.89,191.74 63.71,191.14 64.53,190.54 65.37,189.96 66.20,189.38 67.04,188.81 67.89,188.24 68.74,187.69 69.60,187.14 70.46,186.60 71.32,186.06 72.19,185.53 73.07,185.01 73.95,184.50 74.83,183.99 75.72,183.49 76.61,183.00 77.51,182.51 78.41,182.03 79.31,181.56 80.22,181.09 81.13,180.63 82.05,180.18 82.97,179.73 83.90,179.29 84.82,178.85 85.75,178.42 86.69,177.99 87.63,177.58 88.57,177.16 89.51,176.75 90.46,176.35 91.41,175.96 92.37,175.57 93.33,175.18 94.29,174.80 95.25,174.43 96.21,174.06 97.18,173.69 98.15,173.33 99.13,172.98 100.11,172.63 101.08,172.28 102.07,171.94 103.05,171.60 104.03,171.27 105.02,170.94 106.01,170.62 107.01,170.30 108.00,169.99 109.00,169.68 109.99,169.37 110.99,169.07 111.99,168.77 113.00,168.48 114.00,168.19 115.01,167.90 116.01,167.62 117.02,167.34 118.03,167.06 119.04,166.79 120.05,166.52 121.07,166.26 122.08,165.99 123.10,165.73 124.11,165.48 125.13,165.22 126.14,164.97 127.16,164.72 128.18,164.48 129.20,164.23 130.22,163.99 131.24,163.76 132.26,163.52 133.28,163.29 134.30,163.06 135.32,162.83 136.34,162.60 137.36,162.38 138.37,162.16 139.39,161.94 140.41,161.72 141.43,161.50 142.45,161.29 143.47,161.07 144.48,160.86 145.50,160.65 146.52,160.44 147.53,160.24 148.55,160.03 149.56,159.83 150.58,159.62 151.59,159.42 152.60,159.22 153.62,159.02 154.63,158.82 155.64,158.63 156.66,158.43 157.67,158.23 158.68,158.04 159.69,157.85 160.70,157.66 161.72,157.47 162.73,157.28 163.74,157.09 164.75,156.90 165.76,156.71 166.77,156.53 167.79,156.34 168.80,156.16 169.81,155.97 170.82,155.79 171.84,155.61 172.85,155.42 173.86,155.24 174.87,155.06 175.89,154.88 176.90,154.70 177.91,154.52 178.93,154.34 179.94,154.16 180.96,153.98 181.97,153.80 182.99,153.62 184.01,153.45 185.02,153.27 186.04,153.09 187.06,152.91 188.08,152.74 189.10,152.56 190.12,152.39 191.14,152.22 192.16,152.05 193.18,151.88 194.20,151.71 195.23,151.54 196.25,151.37 197.28,151.21 198.31,151.05 199.34,150.88 200.37,150.73 201.40,150.57 202.43,150.41 203.46,150.26 204.50,150.11 205.53,149.96 206.57,149.82 207.61,149.68 208.65,149.54 209.69,149.40 210.73,149.27 211.77,149.14 212.82,149.01 213.87,148.88 214.92,148.76 215.97,148.65 217.02,148.53 218.07,148.42 219.13,148.31 220.18,148.20 221.24,148.10 222.30,147.99 223.35,147.89 224.41,147.78 225.47,147.68 226.52,147.57 227.58,147.47 228.64,147.36 229.69,147.25 230.75,147.14 231.80,147.03 232.85,146.92 233.90,146.80 234.95,146.67 235.99,146.55 237.03,146.42 238.08,146.28 239.11,146.14 240.15,146.00 241.18,145.84 242.21,145.69 243.24,145.52 244.26,145.35 245.28,145.17 246.29,144.98 247.30,144.78 248.31,144.58 249.31,144.37 250.30,144.14 251.29,143.91 252.28,143.67 253.26,143.41 254.23,143.15 255.20,142.87 256.17,142.58 257.12,142.28 258.07,141.97 259.02,141.64 259.95,141.30 260.88,140.95 261.80,140.58 262.72,140.19 263.63,139.80 264.53,139.38 265.42,138.95 266.30,138.51 267.18,138.05 268.04,137.57 268.90,137.07 269.75,136.56 270.59,136.03 271.42,135.48 272.24,134.91 273.05,134.32 273.85,133.71 274.65,133.08 275.43,132.43" fill="none" stroke="#179a52" stroke-width="1.8" stroke-linejoin="round" stroke-linecap="round"/>
<polyline points="138.83,162.15 139.40,161.85 139.98,161.54 140.56,161.24 141.14,160.94 141.72,160.65 142.30,160.36 142.89,160.07 143.47,159.79 144.06,159.51 144.64,159.23 145.23,158.96 145.82,158.68 146.41,158.42 147.00,158.15 147.59,157.89 148.18,157.64 148.77,157.38 149.36,157.13 149.96,156.88 150.55,156.64 151.15,156.39 151.75,156.16 152.34,155.92 152.94,155.69 153.54,155.46 154.14,155.23 154.74,155.01 155.34,154.79 155.95,154.57 156.55,154.36 157.16,154.14 157.76,153.94 158.37,153.73 158.97,153.53 159.58,153.33 160.19,153.13 160.80,152.94 161.41,152.75 162.02,152.56 162.63,152.37 163.24,152.19 163.86,152.01 164.47,151.83 165.08,151.66 165.70,151.48 166.32,151.31 166.93,151.15 167.55,150.98 168.17,150.82 168.79,150.66 169.41,150.51 170.03,150.35 170.65,150.20 171.27,150.05 171.89,149.91 172.51,149.76 173.14,149.62 173.76,149.48 174.39,149.35 175.01,149.21 175.64,149.08 176.26,148.95 176.89,148.82 177.52,148.70 178.15,148.58 178.78,148.46 179.41,148.34 180.04,148.22 180.67,148.11 181.30,148.00 181.93,147.89 182.57,147.78 183.20,147.68 183.83,147.58 184.47,147.48 185.10,147.38 185.74,147.28 186.38,147.19 187.01,147.10 187.65,147.01 188.29,146.92 188.93,146.84 189.57,146.75 190.21,146.67 190.85,146.59 191.49,146.51 192.13,146.44 192.77,146.36 193.41,146.29 194.05,146.22 194.69,146.15 195.34,146.09 195.98,146.02 196.63,145.96 197.27,145.90 197.92,145.84 198.56,145.78 199.21,145.73 199.85,145.67 200.50,145.62 201.15,145.57 201.80,145.52 202.44,145.47 203.09,145.43 203.74,145.38 204.39,145.34 205.04,145.30 205.69,145.26 206.34,145.22 206.99,145.18 207.64,145.15 208.29,145.11 208.94,145.08 209.60,145.05 210.25,145.02 210.90,144.99 211.55,144.96 212.20,144.93 212.86,144.90 213.51,144.87 214.16,144.85 214.82,144.82 215.47,144.79 216.12,144.77 216.77,144.74 217.43,144.72 218.08,144.69 218.73,144.67 219.39,144.64 220.04,144.61 220.69,144.59 221.35,144.56 222.00,144.54 222.65,144.51 223.30,144.48 223.95,144.45 224.61,144.42 225.26,144.39 225.91,144.36 226.56,144.33 227.21,144.30 227.86,144.27 228.51,144.23 229.16,144.20 229.81,144.16 230.46,144.12 231.11,144.08 231.76,144.04 232.40,143.99 233.05,143.95 233.70,143.90 234.34,143.85 234.99,143.80 235.63,143.75 236.28,143.70 236.92,143.64 237.57,143.58 238.21,143.52 238.85,143.46 239.49,143.39 240.13,143.32 240.77,143.25 241.41,143.18 242.05,143.10 242.69,143.02 243.32,142.94 243.96,142.85 244.60,142.76 245.23,142.67 245.86,142.58 246.50,142.48 247.13,142.38 247.76,142.27 248.39,142.16 249.02,142.05 249.64,141.94 250.27,141.82 250.90,141.69 251.52,141.57 252.14,141.43 252.77,141.30 253.39,141.16 254.01,141.02 254.63,140.87 255.24,140.72 255.86,140.56 256.48,140.40 257.09,140.23 257.70,140.06 258.32,139.89 258.93,139.71 259.53,139.52 260.14,139.33 260.75,139.14 261.35,138.94 261.96,138.73 262.56,138.52 263.16,138.30 263.76,138.08 264.36,137.85 264.95,137.62 265.55,137.38 266.14,137.14 266.73,136.89 267.32,136.63 267.91,136.37 268.50,136.11 269.08,135.83 269.66,135.55 270.25,135.26 270.83,134.97 271.40,134.67 271.98,134.37 272.56,134.06 273.13,133.74 273.70,133.41 274.27,133.08 274.84,132.74 275.40,132.39" fill="none" stroke="#179a52" stroke-width="1.8" stroke-linejoin="round" stroke-linecap="round"/>
<rect x="67.95" y="186.14" width="2.5" height="2.5" fill="#e6f6ec" stroke="#179a52" stroke-width="0.9"/>
<rect x="71.65" y="183.86" width="2.5" height="2.5" fill="#e6f6ec" stroke="#179a52" stroke-width="0.9"/>
<rect x="75.34" y="181.76" width="2.5" height="2.5" fill="#e6f6ec" stroke="#179a52" stroke-width="0.9"/>
<rect x="79.04" y="179.81" width="2.5" height="2.5" fill="#e6f6ec" stroke="#179a52" stroke-width="0.9"/>
<rect x="82.74" y="177.99" width="2.5" height="2.5" fill="#e6f6ec" stroke="#179a52" stroke-width="0.9"/>
<rect x="86.44" y="176.30" width="2.5" height="2.5" fill="#e6f6ec" stroke="#179a52" stroke-width="0.9"/>
<rect x="90.14" y="174.72" width="2.5" height="2.5" fill="#e6f6ec" stroke="#179a52" stroke-width="0.9"/>
<rect x="93.83" y="173.24" width="2.5" height="2.5" fill="#e6f6ec" stroke="#179a52" stroke-width="0.9"/>
<rect x="97.53" y="171.85" width="2.5" height="2.5" fill="#e6f6ec" stroke="#179a52" stroke-width="0.9"/>
<rect x="101.23" y="170.55" width="2.5" height="2.5" fill="#e6f6ec" stroke="#179a52" stroke-width="0.9"/>
<rect x="104.93" y="169.32" width="2.5" height="2.5" fill="#e6f6ec" stroke="#179a52" stroke-width="0.9"/>
<rect x="108.62" y="168.16" width="2.5" height="2.5" fill="#e6f6ec" stroke="#179a52" stroke-width="0.9"/>
<rect x="112.32" y="167.06" width="2.5" height="2.5" fill="#e6f6ec" stroke="#179a52" stroke-width="0.9"/>
<rect x="116.02" y="166.02" width="2.5" height="2.5" fill="#e6f6ec" stroke="#179a52" stroke-width="0.9"/>
<rect x="119.72" y="165.03" width="2.5" height="2.5" fill="#e6f6ec" stroke="#179a52" stroke-width="0.9"/>
<rect x="123.41" y="164.09" width="2.5" height="2.5" fill="#e6f6ec" stroke="#179a52" stroke-width="0.9"/>
<rect x="128.85" y="162.77" width="2.5" height="2.5" fill="#e6f6ec" stroke="#179a52" stroke-width="0.9"/>
<rect x="134.29" y="161.53" width="2.5" height="2.5" fill="#e6f6ec" stroke="#179a52" stroke-width="0.9"/>
<rect x="139.73" y="160.35" width="2.5" height="2.5" fill="#e6f6ec" stroke="#179a52" stroke-width="0.9"/>
<rect x="145.16" y="159.21" width="2.5" height="2.5" fill="#e6f6ec" stroke="#179a52" stroke-width="0.9"/>
<rect x="150.60" y="158.12" width="2.5" height="2.5" fill="#e6f6ec" stroke="#179a52" stroke-width="0.9"/>
<rect x="156.04" y="157.06" width="2.5" height="2.5" fill="#e6f6ec" stroke="#179a52" stroke-width="0.9"/>
<rect x="161.48" y="156.03" width="2.5" height="2.5" fill="#e6f6ec" stroke="#179a52" stroke-width="0.9"/>
<rect x="166.91" y="155.02" width="2.5" height="2.5" fill="#e6f6ec" stroke="#179a52" stroke-width="0.9"/>
<rect x="172.35" y="154.04" width="2.5" height="2.5" fill="#e6f6ec" stroke="#179a52" stroke-width="0.9"/>
<rect x="177.79" y="153.07" width="2.5" height="2.5" fill="#e6f6ec" stroke="#179a52" stroke-width="0.9"/>
<rect x="183.23" y="152.11" width="2.5" height="2.5" fill="#e6f6ec" stroke="#179a52" stroke-width="0.9"/>
<rect x="188.66" y="151.17" width="2.5" height="2.5" fill="#e6f6ec" stroke="#179a52" stroke-width="0.9"/>
<rect x="194.10" y="150.27" width="2.5" height="2.5" fill="#e6f6ec" stroke="#179a52" stroke-width="0.9"/>
<rect x="199.54" y="149.41" width="2.5" height="2.5" fill="#e6f6ec" stroke="#179a52" stroke-width="0.9"/>
<rect x="204.98" y="148.62" width="2.5" height="2.5" fill="#e6f6ec" stroke="#179a52" stroke-width="0.9"/>
<rect x="210.41" y="147.90" width="2.5" height="2.5" fill="#e6f6ec" stroke="#179a52" stroke-width="0.9"/>
<rect x="215.85" y="147.27" width="2.5" height="2.5" fill="#e6f6ec" stroke="#179a52" stroke-width="0.9"/>
<rect x="221.29" y="146.72" width="2.5" height="2.5" fill="#e6f6ec" stroke="#179a52" stroke-width="0.9"/>
<rect x="226.73" y="146.18" width="2.5" height="2.5" fill="#e6f6ec" stroke="#179a52" stroke-width="0.9"/>
<rect x="232.16" y="145.60" width="2.5" height="2.5" fill="#e6f6ec" stroke="#179a52" stroke-width="0.9"/>
<rect x="237.60" y="144.93" width="2.5" height="2.5" fill="#e6f6ec" stroke="#179a52" stroke-width="0.9"/>
<rect x="243.04" y="144.09" width="2.5" height="2.5" fill="#e6f6ec" stroke="#179a52" stroke-width="0.9"/>
<rect x="248.48" y="143.02" width="2.5" height="2.5" fill="#e6f6ec" stroke="#179a52" stroke-width="0.9"/>
<rect x="253.91" y="141.63" width="2.5" height="2.5" fill="#e6f6ec" stroke="#179a52" stroke-width="0.9"/>
<rect x="259.35" y="139.80" width="2.5" height="2.5" fill="#e6f6ec" stroke="#179a52" stroke-width="0.9"/>
<rect x="264.79" y="137.39" width="2.5" height="2.5" fill="#e6f6ec" stroke="#179a52" stroke-width="0.9"/>
<rect x="270.23" y="134.19" width="2.5" height="2.5" fill="#e6f6ec" stroke="#179a52" stroke-width="0.9"/>
<rect x="150.60" y="154.87" width="2.5" height="2.5" fill="#e6f6ec" stroke="#179a52" stroke-width="0.9"/>
<rect x="156.04" y="152.85" width="2.5" height="2.5" fill="#e6f6ec" stroke="#179a52" stroke-width="0.9"/>
<rect x="161.48" y="151.09" width="2.5" height="2.5" fill="#e6f6ec" stroke="#179a52" stroke-width="0.9"/>
<rect x="166.91" y="149.57" width="2.5" height="2.5" fill="#e6f6ec" stroke="#179a52" stroke-width="0.9"/>
<rect x="172.35" y="148.27" width="2.5" height="2.5" fill="#e6f6ec" stroke="#179a52" stroke-width="0.9"/>
<rect x="177.79" y="147.16" width="2.5" height="2.5" fill="#e6f6ec" stroke="#179a52" stroke-width="0.9"/>
<rect x="183.23" y="146.23" width="2.5" height="2.5" fill="#e6f6ec" stroke="#179a52" stroke-width="0.9"/>
<rect x="188.66" y="145.46" width="2.5" height="2.5" fill="#e6f6ec" stroke="#179a52" stroke-width="0.9"/>
<rect x="194.10" y="144.84" width="2.5" height="2.5" fill="#e6f6ec" stroke="#179a52" stroke-width="0.9"/>
<rect x="199.54" y="144.35" width="2.5" height="2.5" fill="#e6f6ec" stroke="#179a52" stroke-width="0.9"/>
<rect x="204.98" y="143.98" width="2.5" height="2.5" fill="#e6f6ec" stroke="#179a52" stroke-width="0.9"/>
<rect x="210.41" y="143.70" width="2.5" height="2.5" fill="#e6f6ec" stroke="#179a52" stroke-width="0.9"/>
<rect x="215.85" y="143.48" width="2.5" height="2.5" fill="#e6f6ec" stroke="#179a52" stroke-width="0.9"/>
<rect x="221.29" y="143.26" width="2.5" height="2.5" fill="#e6f6ec" stroke="#179a52" stroke-width="0.9"/>
<rect x="226.73" y="143.01" width="2.5" height="2.5" fill="#e6f6ec" stroke="#179a52" stroke-width="0.9"/>
<rect x="232.16" y="142.67" width="2.5" height="2.5" fill="#e6f6ec" stroke="#179a52" stroke-width="0.9"/>
<rect x="237.60" y="142.21" width="2.5" height="2.5" fill="#e6f6ec" stroke="#179a52" stroke-width="0.9"/>
<rect x="243.04" y="141.56" width="2.5" height="2.5" fill="#e6f6ec" stroke="#179a52" stroke-width="0.9"/>
<rect x="248.48" y="140.67" width="2.5" height="2.5" fill="#e6f6ec" stroke="#179a52" stroke-width="0.9"/>
<rect x="253.91" y="139.49" width="2.5" height="2.5" fill="#e6f6ec" stroke="#179a52" stroke-width="0.9"/>
<rect x="259.35" y="137.93" width="2.5" height="2.5" fill="#e6f6ec" stroke="#179a52" stroke-width="0.9"/>
<rect x="264.79" y="135.93" width="2.5" height="2.5" fill="#e6f6ec" stroke="#179a52" stroke-width="0.9"/>
<rect x="270.23" y="133.39" width="2.5" height="2.5" fill="#e6f6ec" stroke="#179a52" stroke-width="0.9"/>
<polyline points="60.43,196.69 61.24,196.08 62.07,195.48 62.89,194.90 63.72,194.32 64.55,193.75 65.39,193.19 66.23,192.64 67.08,192.10 67.93,191.57 68.78,191.04 69.64,190.53 70.50,190.02 71.37,189.52 72.24,189.03 73.11,188.55 73.99,188.08 74.87,187.62 75.75,187.16 76.64,186.71 77.53,186.27 78.42,185.84 79.32,185.41 80.22,185.00 81.12,184.59 82.03,184.19 82.94,183.79 83.85,183.41 84.76,183.03 85.68,182.65 86.60,182.29 87.53,181.93 88.46,181.58 89.39,181.24 90.32,180.90 91.25,180.57 92.19,180.24 93.13,179.92 94.07,179.61 95.02,179.31 95.97,179.01 96.92,178.72 97.87,178.43 98.83,178.15 99.78,177.87 100.74,177.60 101.70,177.34 102.67,177.08 103.63,176.83 104.60,176.58 105.57,176.34 106.54,176.10 107.51,175.87 108.49,175.64 109.46,175.42 110.44,175.21 111.42,175.00 112.40,174.79 113.39,174.59 114.37,174.39 115.36,174.19 116.35,174.01 117.33,173.82 118.32,173.64 119.32,173.46 120.31,173.29 121.30,173.12 122.30,172.96 123.29,172.80 124.29,172.64 125.29,172.49 126.29,172.34 127.29,172.19 128.29,172.05 129.29,171.91 130.29,171.77 131.29,171.64 132.29,171.50 133.30,171.38 134.30,171.25 135.31,171.13 136.31,171.01 137.32,170.89 138.32,170.78 139.33,170.67 140.34,170.56 141.35,170.45 142.36,170.35 143.37,170.25 144.37,170.15 145.38,170.05 146.40,169.96 147.41,169.87 148.42,169.78 149.43,169.69 150.44,169.61 151.45,169.52 152.47,169.45 153.48,169.37 154.49,169.29 155.51,169.22 156.52,169.15 157.54,169.08 158.55,169.01 159.57,168.95 160.58,168.88 161.60,168.82 162.62,168.76 163.63,168.71 164.65,168.65 165.67,168.60 166.68,168.55 167.70,168.49 168.72,168.45 169.74,168.40 170.76,168.35 171.77,168.31 172.79,168.27 173.81,168.23 174.83,168.19 175.85,168.15 176.87,168.11 177.89,168.08 178.91,168.04 179.93,168.01 180.95,167.98 181.97,167.95 182.99,167.92 184.01,167.89 185.03,167.87 186.05,167.84 187.07,167.82 188.09,167.79 189.11,167.77 190.13,167.75 191.15,167.73 192.17,167.71 193.19,167.69 194.21,167.67 195.23,167.65 196.25,167.63 197.27,167.62 198.29,167.60 199.31,167.59 200.33,167.57 201.35,167.56 202.37,167.55 203.39,167.53 204.41,167.52 205.43,167.51 206.45,167.50 207.47,167.49 208.49,167.47 209.51,167.46 210.53,167.45 211.54,167.44 212.56,167.43 213.58,167.42 214.60,167.41 215.61,167.40 216.63,167.39 217.65,167.38 218.66,167.37 219.68,167.36 220.70,167.35 221.71,167.34 222.73,167.33 223.74,167.32 224.76,167.31 225.77,167.30 226.79,167.29 227.80,167.27 228.81,167.26 229.83,167.25 230.84,167.23 231.85,167.22 232.86,167.21 233.87,167.19 234.88,167.18 235.89,167.16 236.90,167.14 237.91,167.12 238.92,167.11 239.93,167.09 240.94,167.07 241.94,167.04 242.95,167.02 243.96,167.00 244.96,166.98 245.97,166.95 246.97,166.92 247.98,166.90 248.98,166.87 249.98,166.84 250.99,166.81 251.99,166.78 252.99,166.74 253.99,166.71 254.99,166.67 255.99,166.64 256.99,166.60 257.98,166.56 258.98,166.52 259.98,166.47 260.97,166.43 261.97,166.38 262.96,166.34 263.96,166.29 264.95,166.24 265.94,166.18 266.93,166.13 267.92,166.07 268.91,166.01 269.90,165.95 270.89,165.89 271.87,165.83 272.86,165.76 273.85,165.70 274.83,165.63 275.81,165.55" fill="none" stroke="#000" stroke-width="2.7" stroke-linejoin="round" stroke-linecap="round"/>
<path d="M60.47,195.05H64.88M62.67,192.85V197.25M61.17,193.55L64.17,196.55M61.17,196.55L64.17,193.55" stroke="#000" stroke-width="1.0"/>
<path d="M64.83,192.13H69.23M67.03,189.93V194.33M65.53,190.63L68.53,193.63M65.53,193.63L68.53,190.63" stroke="#000" stroke-width="1.0"/>
<path d="M69.17,189.52H73.58M71.38,187.32V191.72M69.88,188.02L72.88,191.02M69.88,191.02L72.88,188.02" stroke="#000" stroke-width="1.0"/>
<path d="M73.52,187.17H77.92M75.72,184.97V189.37M74.22,185.67L77.22,188.67M74.22,188.67L77.22,185.67" stroke="#000" stroke-width="1.0"/>
<path d="M77.87,185.06H82.27M80.07,182.86V187.26M78.57,183.56L81.57,186.56M78.57,186.56L81.57,183.56" stroke="#000" stroke-width="1.0"/>
<path d="M82.22,183.17H86.62M84.42,180.97V185.37M82.92,181.67L85.92,184.67M82.92,184.67L85.92,181.67" stroke="#000" stroke-width="1.0"/>
<path d="M86.57,181.46H90.97M88.77,179.26V183.66M87.27,179.96L90.27,182.96M87.27,182.96L90.27,179.96" stroke="#000" stroke-width="1.0"/>
<path d="M90.92,179.93H95.33M93.12,177.73V182.13M91.62,178.43L94.62,181.43M91.62,181.43L94.62,178.43" stroke="#000" stroke-width="1.0"/>
<path d="M95.27,178.55H99.67M97.47,176.35V180.75M95.97,177.05L98.97,180.05M95.97,180.05L98.97,177.05" stroke="#000" stroke-width="1.0"/>
<path d="M99.62,177.31H104.02M101.82,175.11V179.51M100.32,175.81L103.32,178.81M100.32,178.81L103.32,175.81" stroke="#000" stroke-width="1.0"/>
<path d="M103.97,176.19H108.37M106.17,173.99V178.39M104.67,174.69L107.67,177.69M104.67,177.69L107.67,174.69" stroke="#000" stroke-width="1.0"/>
<path d="M108.33,175.19H112.73M110.53,172.99V177.39M109.03,173.69L112.03,176.69M109.03,176.69L112.03,173.69" stroke="#000" stroke-width="1.0"/>
<path d="M112.67,174.29H117.08M114.88,172.09V176.49M113.38,172.79L116.38,175.79M113.38,175.79L116.38,172.79" stroke="#000" stroke-width="1.0"/>
<path d="M117.02,173.48H121.42M119.22,171.28V175.68M117.72,171.98L120.72,174.98M117.72,174.98L120.72,171.98" stroke="#000" stroke-width="1.0"/>
<path d="M121.37,172.75H125.77M123.57,170.55V174.95M122.07,171.25L125.07,174.25M122.07,174.25L125.07,171.25" stroke="#000" stroke-width="1.0"/>
<path d="M125.72,172.10H130.12M127.92,169.90V174.30M126.42,170.60L129.42,173.60M126.42,173.60L129.42,170.60" stroke="#000" stroke-width="1.0"/>
<path d="M130.07,171.51H134.47M132.27,169.31V173.71M130.77,170.01L133.77,173.01M130.77,173.01L133.77,170.01" stroke="#000" stroke-width="1.0"/>
<path d="M134.43,170.97H138.82M136.62,168.77V173.17M135.12,169.47L138.12,172.47M135.12,172.47L138.12,169.47" stroke="#000" stroke-width="1.0"/>
<path d="M138.77,170.49H143.17M140.97,168.29V172.69M139.47,168.99L142.47,171.99M139.47,171.99L142.47,168.99" stroke="#000" stroke-width="1.0"/>
<path d="M143.12,170.06H147.52M145.32,167.86V172.26M143.82,168.56L146.82,171.56M143.82,171.56L146.82,168.56" stroke="#000" stroke-width="1.0"/>
<path d="M147.47,169.67H151.87M149.67,167.47V171.87M148.17,168.17L151.17,171.17M148.17,171.17L151.17,168.17" stroke="#000" stroke-width="1.0"/>
<path d="M151.82,169.33H156.22M154.02,167.13V171.53M152.52,167.83L155.52,170.83M152.52,170.83L155.52,167.83" stroke="#000" stroke-width="1.0"/>
<path d="M156.18,169.02H160.57M158.38,166.82V171.22M156.88,167.52L159.88,170.52M156.88,170.52L159.88,167.52" stroke="#000" stroke-width="1.0"/>
<path d="M160.52,168.76H164.92M162.72,166.56V170.96M161.22,167.26L164.22,170.26M161.22,170.26L164.22,167.26" stroke="#000" stroke-width="1.0"/>
<path d="M164.88,168.53H169.27M167.07,166.33V170.73M165.57,167.03L168.57,170.03M165.57,170.03L168.57,167.03" stroke="#000" stroke-width="1.0"/>
<path d="M169.22,168.32H173.62M171.42,166.12V170.52M169.92,166.82L172.92,169.82M169.92,169.82L172.92,166.82" stroke="#000" stroke-width="1.0"/>
<path d="M173.57,168.15H177.97M175.77,165.95V170.35M174.27,166.65L177.27,169.65M174.27,169.65L177.27,166.65" stroke="#000" stroke-width="1.0"/>
<path d="M177.93,168.00H182.32M180.12,165.80V170.20M178.62,166.50L181.62,169.50M178.62,169.50L181.62,166.50" stroke="#000" stroke-width="1.0"/>
<path d="M182.28,167.88H186.67M184.47,165.68V170.08M182.97,166.38L185.97,169.38M182.97,169.38L185.97,166.38" stroke="#000" stroke-width="1.0"/>
<path d="M186.62,167.78H191.02M188.82,165.58V169.98M187.32,166.28L190.32,169.28M187.32,169.28L190.32,166.28" stroke="#000" stroke-width="1.0"/>
<path d="M190.97,167.69H195.37M193.17,165.49V169.89M191.67,166.19L194.67,169.19M191.67,169.19L194.67,166.19" stroke="#000" stroke-width="1.0"/>
<path d="M195.32,167.61H199.72M197.52,165.41V169.81M196.02,166.11L199.02,169.11M196.02,169.11L199.02,166.11" stroke="#000" stroke-width="1.0"/>
<path d="M199.67,167.55H204.07M201.87,165.35V169.75M200.37,166.05L203.37,169.05M200.37,169.05L203.37,166.05" stroke="#000" stroke-width="1.0"/>
<path d="M204.03,167.50H208.42M206.22,165.30V169.70M204.72,166.00L207.72,169.00M204.72,169.00L207.72,166.00" stroke="#000" stroke-width="1.0"/>
<path d="M208.38,167.45H212.77M210.57,165.25V169.65M209.07,165.95L212.07,168.95M209.07,168.95L212.07,165.95" stroke="#000" stroke-width="1.0"/>
<path d="M212.72,167.41H217.12M214.92,165.21V169.61M213.42,165.91L216.42,168.91M213.42,168.91L216.42,165.91" stroke="#000" stroke-width="1.0"/>
<path d="M217.07,167.37H221.47M219.27,165.17V169.57M217.77,165.87L220.77,168.87M217.77,168.87L220.77,165.87" stroke="#000" stroke-width="1.0"/>
<path d="M221.42,167.32H225.82M223.62,165.12V169.52M222.12,165.82L225.12,168.82M222.12,168.82L225.12,165.82" stroke="#000" stroke-width="1.0"/>
<path d="M225.77,167.27H230.17M227.97,165.07V169.47M226.47,165.77L229.47,168.77M226.47,168.77L229.47,165.77" stroke="#000" stroke-width="1.0"/>
<path d="M230.12,167.21H234.52M232.32,165.01V169.41M230.82,165.71L233.82,168.71M230.82,168.71L233.82,165.71" stroke="#000" stroke-width="1.0"/>
<path d="M234.47,167.15H238.87M236.67,164.95V169.35M235.17,165.65L238.17,168.65M235.17,168.65L238.17,165.65" stroke="#000" stroke-width="1.0"/>
<path d="M238.82,167.06H243.22M241.02,164.86V169.26M239.52,165.56L242.52,168.56M239.52,168.56L242.52,165.56" stroke="#000" stroke-width="1.0"/>
<path d="M243.17,166.97H247.57M245.37,164.77V169.17M243.87,165.47L246.87,168.47M243.87,168.47L246.87,165.47" stroke="#000" stroke-width="1.0"/>
<path d="M247.52,166.85H251.92M249.72,164.65V169.05M248.22,165.35L251.22,168.35M248.22,168.35L251.22,165.35" stroke="#000" stroke-width="1.0"/>
<path d="M251.88,166.71H256.27M254.07,164.51V168.91M252.57,165.21L255.57,168.21M252.57,168.21L255.57,165.21" stroke="#000" stroke-width="1.0"/>
<path d="M256.22,166.54H260.62M258.42,164.34V168.74M256.92,165.04L259.92,168.04M256.92,168.04L259.92,165.04" stroke="#000" stroke-width="1.0"/>
<path d="M260.57,166.35H264.97M262.77,164.15V168.55M261.27,164.85L264.27,167.85M261.27,167.85L264.27,164.85" stroke="#000" stroke-width="1.0"/>
<path d="M264.93,166.12H269.32M267.12,163.92V168.32M265.62,164.62L268.62,167.62M265.62,167.62L268.62,164.62" stroke="#000" stroke-width="1.0"/>
<path d="M269.27,165.86H273.67M271.47,163.66V168.06M269.97,164.36L272.97,167.36M269.97,167.36L272.97,164.36" stroke="#000" stroke-width="1.0"/>
<path d="M273.62,165.55H278.02M275.82,163.35V167.75M274.32,164.05L277.32,167.05M274.32,167.05L277.32,164.05" stroke="#000" stroke-width="1.0"/>
<line x1="302.6" y1="77.1" x2="326.8" y2="77.1" stroke="#5a5a5a" stroke-width="1.7"/>
<path d="M313.1,76.4L317.5,80.6M313.1,80.6L317.5,76.4" stroke="#6a6a6a" stroke-width="0.8"/>
<text x="329.6" y="81.00" class="lg">SiO<tspan class="ls">2</tspan>(17.2%)/TiO<tspan class="ls">2</tspan></text>
<line x1="302.6" y1="101.8" x2="326.8" y2="101.8" stroke="#e2431e" stroke-width="2.0"/>
<text x="329.6" y="105.70" class="lg">SiO<tspan class="ls">2</tspan>(14.3%)/TiO<tspan class="ls">2</tspan></text>
<line x1="302.6" y1="126.4" x2="326.8" y2="126.4" stroke="#5e2a8a" stroke-width="2.0"/>
<path d="M313.60,126.40H316.80M315.20,124.80V128.00" stroke="#6c2e9c" stroke-width="0.9"/>
<text x="329.6" y="130.30" class="lg">SiO<tspan class="ls">2</tspan>(11.1%)/TiO<tspan class="ls">2</tspan></text>
<line x1="302.6" y1="150.2" x2="326.8" y2="150.2" stroke="#1e8a50" stroke-width="1.7"/>
<rect x="313.95" y="148.95" width="2.5" height="2.5" fill="#e6f6ec" stroke="#179a52" stroke-width="0.9"/>
<text x="329.6" y="154.10" class="lg">SiO<tspan class="ls">2</tspan>(7.7%)/TiO<tspan class="ls">2</tspan></text>
<line x1="302.6" y1="174.6" x2="326.8" y2="174.6" stroke="#000" stroke-width="2.3"/>
<path d="M313.4,173.00L317.6,177.20M313.4,177.20L317.6,173.00M315.5,172.40V176.80" stroke="#000" stroke-width="0.9"/>
<text x="329.6" y="178.50" class="lg"><tspan style="font-size:10px" dx="-0.7">starting</tspan>&#160;<tspan dx="1.8">TiO</tspan><tspan class="ls">2</tspan></text>
<rect x="60.5" y="294.0" width="217.5" height="207.5" fill="none" stroke="#000" stroke-width="1.6"/>
<line x1="56.9" y1="501.5" x2="60.5" y2="501.5" stroke="#000" stroke-width="1.4"/>
<text x="50.3" y="505.10" text-anchor="end" class="tk">0</text>
<line x1="56.9" y1="460.0" x2="60.5" y2="460.0" stroke="#000" stroke-width="1.4"/>
<text x="50.3" y="463.60" text-anchor="end" class="tk">50</text>
<line x1="56.9" y1="418.5" x2="60.5" y2="418.5" stroke="#000" stroke-width="1.4"/>
<text x="50.3" y="422.10" text-anchor="end" class="tk">100</text>
<line x1="56.9" y1="377.0" x2="60.5" y2="377.0" stroke="#000" stroke-width="1.4"/>
<text x="50.3" y="380.60" text-anchor="end" class="tk">150</text>
<line x1="56.9" y1="335.5" x2="60.5" y2="335.5" stroke="#000" stroke-width="1.4"/>
<text x="50.3" y="339.10" text-anchor="end" class="tk">200</text>
<line x1="56.9" y1="294.0" x2="60.5" y2="294.0" stroke="#000" stroke-width="1.4"/>
<text x="50.3" y="297.60" text-anchor="end" class="tk">250</text>
<line x1="60.50" y1="501.5" x2="60.50" y2="504.7" stroke="#000" stroke-width="1.4"/>
<text x="60.50" y="519.80" dx="0.6" text-anchor="middle" class="tk">0</text>
<line x1="104.00" y1="501.5" x2="104.00" y2="504.7" stroke="#000" stroke-width="1.4"/>
<text x="104.00" y="519.80" dx="0.6" text-anchor="middle" class="tk">0.2</text>
<line x1="147.50" y1="501.5" x2="147.50" y2="504.7" stroke="#000" stroke-width="1.4"/>
<text x="147.50" y="519.80" dx="0.6" text-anchor="middle" class="tk">0.4</text>
<line x1="191.00" y1="501.5" x2="191.00" y2="504.7" stroke="#000" stroke-width="1.4"/>
<text x="191.00" y="519.80" dx="0.6" text-anchor="middle" class="tk">0.6</text>
<line x1="234.50" y1="501.5" x2="234.50" y2="504.7" stroke="#000" stroke-width="1.4"/>
<text x="234.50" y="519.80" dx="0.6" text-anchor="middle" class="tk">0.8</text>
<line x1="278.00" y1="501.5" x2="278.00" y2="504.7" stroke="#000" stroke-width="1.4"/>
<text x="278.00" y="519.80" dx="0.6" text-anchor="middle" class="tk">1</text>
<text x="158.3" y="537.90" class="ax">p<tspan class="sup2" dy="-2.6">/</tspan><tspan dy="2.6">p</tspan><tspan class="sub" dy="2.6">0</tspan></text>
<text transform="translate(25.9,398.35) rotate(-90)" text-anchor="middle" class="ax">Amount of N<tspan class="sub" dy="2.2">2</tspan><tspan dy="-2.2"> adsorbed [cm</tspan><tspan class="sup" dy="-4.6">3</tspan><tspan dy="4.6">/g]</tspan></text>
<text x="7.4" y="298.40" class="tag">[B]</text>
<polyline points="60.45,471.57 61.21,470.89 61.98,470.22 62.76,469.57 63.54,468.92 64.33,468.28 65.12,467.65 65.92,467.03 66.72,466.42 67.53,465.82 68.35,465.22 69.17,464.64 70.00,464.06 70.83,463.49 71.67,462.94 72.51,462.38 73.36,461.84 74.21,461.31 75.07,460.78 75.93,460.27 76.80,459.76 77.67,459.26 78.55,458.76 79.43,458.28 80.31,457.80 81.20,457.33 82.10,456.87 82.99,456.41 83.90,455.96 84.80,455.52 85.71,455.09 86.63,454.67 87.54,454.25 88.46,453.84 89.39,453.43 90.32,453.03 91.25,452.64 92.19,452.26 93.13,451.88 94.07,451.51 95.01,451.15 95.96,450.79 96.91,450.44 97.87,450.09 98.83,449.75 99.79,449.42 100.75,449.09 101.71,448.77 102.68,448.45 103.65,448.14 104.63,447.84 105.60,447.54 106.58,447.25 107.56,446.96 108.54,446.68 109.52,446.40 110.51,446.13 111.50,445.86 112.49,445.60 113.48,445.35 114.47,445.09 115.47,444.85 116.46,444.61 117.46,444.37 118.46,444.14 119.46,443.91 120.46,443.68 121.46,443.46 122.46,443.25 123.47,443.04 124.47,442.83 125.48,442.63 126.49,442.43 127.49,442.23 128.50,442.04 129.51,441.85 130.52,441.67 131.53,441.49 132.54,441.31 133.55,441.14 134.56,440.97 135.57,440.80 136.58,440.64 137.60,440.48 138.61,440.32 139.62,440.16 140.64,440.01 141.65,439.86 142.67,439.72 143.68,439.58 144.70,439.44 145.72,439.30 146.73,439.17 147.75,439.03 148.77,438.91 149.79,438.78 150.81,438.65 151.82,438.53 152.84,438.41 153.86,438.30 154.88,438.18 155.90,438.07 156.92,437.96 157.94,437.85 158.96,437.74 159.98,437.63 161.01,437.53 162.03,437.43 163.05,437.33 164.07,437.23 165.09,437.13 166.11,437.04 167.14,436.94 168.16,436.85 169.18,436.76 170.20,436.67 171.23,436.58 172.25,436.49 173.27,436.40 174.30,436.32 175.32,436.23 176.34,436.15 177.36,436.07 178.39,435.98 179.41,435.90 180.43,435.82 181.46,435.74 182.48,435.66 183.50,435.58 184.53,435.50 185.55,435.42 186.57,435.34 187.59,435.26 188.62,435.18 189.64,435.10 190.66,435.02 191.68,434.94 192.70,434.86 193.73,434.78 194.75,434.70 195.77,434.62 196.79,434.54 197.81,434.46 198.83,434.38 199.85,434.30 200.87,434.22 201.89,434.13 202.91,434.05 203.93,433.96 204.95,433.88 205.97,433.79 206.99,433.70 208.01,433.61 209.02,433.52 210.04,433.43 211.06,433.34 212.07,433.24 213.09,433.15 214.11,433.05 215.12,432.95 216.14,432.85 217.15,432.75 218.16,432.65 219.18,432.54 220.19,432.43 221.20,432.32 222.21,432.21 223.22,432.10 224.23,431.99 225.24,431.87 226.25,431.75 227.26,431.63 228.27,431.50 229.28,431.38 230.29,431.25 231.29,431.12 232.30,430.98 233.30,430.84 234.31,430.71 235.31,430.56 236.31,430.42 237.32,430.27 238.32,430.12 239.32,429.96 240.32,429.81 241.32,429.65 242.32,429.48 243.31,429.32 244.31,429.15 245.31,428.97 246.30,428.80 247.30,428.62 248.29,428.43 249.28,428.24 250.28,428.05 251.27,427.86 252.26,427.66 253.25,427.46 254.23,427.25 255.22,427.04 256.21,426.82 257.19,426.60 258.18,426.38 259.16,426.15 260.14,425.92 261.12,425.68 262.11,425.44 263.08,425.20 264.06,424.95 265.04,424.69 266.02,424.43 266.99,424.17 267.96,423.90 268.94,423.62 269.91,423.35 270.88,423.06 271.85,422.77 272.82,422.48 273.78,422.18 274.75,421.87" fill="none" stroke="#ee0a0a" stroke-width="1.8" stroke-linejoin="round" stroke-linecap="round"/>
<polyline points="130.11,441.78 130.75,441.58 131.38,441.37 132.02,441.18 132.66,440.98 133.30,440.79 133.94,440.60 134.58,440.41 135.22,440.22 135.86,440.04 136.50,439.86 137.15,439.68 137.79,439.50 138.43,439.33 139.07,439.16 139.72,438.99 140.36,438.82 141.01,438.66 141.65,438.49 142.30,438.33 142.95,438.18 143.59,438.02 144.24,437.87 144.89,437.72 145.53,437.57 146.18,437.42 146.83,437.27 147.48,437.13 148.13,436.99 148.78,436.85 149.43,436.71 150.08,436.58 150.73,436.44 151.39,436.31 152.04,436.18 152.69,436.06 153.34,435.93 154.00,435.81 154.65,435.68 155.30,435.56 155.96,435.44 156.61,435.33 157.27,435.21 157.92,435.10 158.58,434.99 159.23,434.88 159.89,434.77 160.55,434.66 161.20,434.56 161.86,434.45 162.52,434.35 163.17,434.25 163.83,434.15 164.49,434.05 165.15,433.96 165.81,433.86 166.47,433.77 167.13,433.68 167.79,433.59 168.45,433.50 169.11,433.41 169.77,433.32 170.43,433.24 171.09,433.15 171.75,433.07 172.41,432.99 173.08,432.91 173.74,432.83 174.40,432.75 175.06,432.68 175.73,432.60 176.39,432.53 177.05,432.45 177.72,432.38 178.38,432.31 179.04,432.24 179.71,432.17 180.37,432.10 181.04,432.03 181.70,431.97 182.37,431.90 183.03,431.84 183.70,431.77 184.36,431.71 185.03,431.65 185.69,431.59 186.36,431.53 187.03,431.47 187.69,431.41 188.36,431.35 189.03,431.29 189.69,431.23 190.36,431.18 191.03,431.12 191.69,431.07 192.36,431.01 193.03,430.96 193.70,430.91 194.36,430.85 195.03,430.80 195.70,430.75 196.37,430.70 197.04,430.65 197.70,430.60 198.37,430.55 199.04,430.50 199.71,430.45 200.38,430.40 201.05,430.35 201.72,430.30 202.38,430.25 203.05,430.20 203.72,430.16 204.39,430.11 205.06,430.06 205.73,430.01 206.40,429.97 207.07,429.92 207.74,429.87 208.40,429.83 209.07,429.78 209.74,429.73 210.41,429.69 211.08,429.64 211.75,429.59 212.42,429.54 213.09,429.50 213.76,429.45 214.43,429.40 215.10,429.36 215.77,429.31 216.43,429.26 217.10,429.21 217.77,429.17 218.44,429.12 219.11,429.07 219.78,429.02 220.45,428.97 221.12,428.92 221.79,428.87 222.45,428.82 223.12,428.77 223.79,428.72 224.46,428.67 225.13,428.62 225.80,428.56 226.47,428.51 227.13,428.46 227.80,428.40 228.47,428.35 229.14,428.29 229.81,428.24 230.47,428.18 231.14,428.12 231.81,428.07 232.48,428.01 233.14,427.95 233.81,427.89 234.48,427.83 235.14,427.77 235.81,427.70 236.48,427.64 237.14,427.58 237.81,427.51 238.48,427.45 239.14,427.38 239.81,427.31 240.47,427.24 241.14,427.17 241.80,427.10 242.47,427.03 243.13,426.96 243.80,426.89 244.46,426.81 245.13,426.73 245.79,426.66 246.45,426.58 247.12,426.50 247.78,426.42 248.44,426.34 249.11,426.26 249.77,426.17 250.43,426.09 251.09,426.00 251.76,425.91 252.42,425.82 253.08,425.73 253.74,425.64 254.40,425.55 255.06,425.45 255.72,425.35 256.38,425.26 257.04,425.16 257.70,425.06 258.36,424.95 259.02,424.85 259.68,424.74 260.34,424.64 261.00,424.53 261.65,424.42 262.31,424.30 262.97,424.19 263.62,424.08 264.28,423.96 264.94,423.84 265.59,423.72 266.25,423.60 266.90,423.47 267.56,423.35 268.21,423.22 268.87,423.09 269.52,422.96 270.18,422.82 270.83,422.69 271.48,422.55 272.13,422.41 272.79,422.27 273.44,422.12 274.09,421.98 274.74,421.83" fill="none" stroke="#ee0a0a" stroke-width="1.8" stroke-linejoin="round" stroke-linecap="round"/>
<path d="M64.85,466.16L66.55,469.22L63.15,469.22Z" fill="#ee0a0a"/>
<path d="M71.38,461.43L73.08,464.49L69.67,464.49Z" fill="#ee0a0a"/>
<path d="M77.90,457.43L79.60,460.49L76.20,460.49Z" fill="#ee0a0a"/>
<path d="M84.43,454.01L86.13,457.07L82.73,457.07Z" fill="#ee0a0a"/>
<path d="M90.95,451.07L92.65,454.13L89.25,454.13Z" fill="#ee0a0a"/>
<path d="M97.47,448.53L99.17,451.59L95.77,451.59Z" fill="#ee0a0a"/>
<path d="M104.00,446.34L105.70,449.40L102.30,449.40Z" fill="#ee0a0a"/>
<path d="M110.53,444.43L112.23,447.49L108.83,447.49Z" fill="#ee0a0a"/>
<path d="M117.05,442.77L118.75,445.83L115.35,445.83Z" fill="#ee0a0a"/>
<path d="M123.58,441.31L125.28,444.37L121.88,444.37Z" fill="#ee0a0a"/>
<path d="M130.10,440.04L131.80,443.10L128.40,443.10Z" fill="#ee0a0a"/>
<path d="M136.62,438.93L138.32,441.99L134.93,441.99Z" fill="#ee0a0a"/>
<path d="M143.15,437.95L144.85,441.01L141.45,441.01Z" fill="#ee0a0a"/>
<path d="M149.68,437.09L151.38,440.15L147.98,440.15Z" fill="#ee0a0a"/>
<path d="M156.20,436.34L157.90,439.40L154.50,439.40Z" fill="#ee0a0a"/>
<path d="M162.73,435.66L164.43,438.72L161.03,438.72Z" fill="#ee0a0a"/>
<path d="M169.25,435.05L170.95,438.11L167.55,438.11Z" fill="#ee0a0a"/>
<path d="M175.78,434.50L177.47,437.56L174.08,437.56Z" fill="#ee0a0a"/>
<path d="M182.30,433.97L184.00,437.03L180.60,437.03Z" fill="#ee0a0a"/>
<path d="M188.83,433.46L190.53,436.52L187.13,436.52Z" fill="#ee0a0a"/>
<path d="M195.35,432.96L197.05,436.02L193.65,436.02Z" fill="#ee0a0a"/>
<path d="M201.88,432.43L203.57,435.49L200.18,435.49Z" fill="#ee0a0a"/>
<path d="M208.40,431.88L210.10,434.94L206.70,434.94Z" fill="#ee0a0a"/>
<path d="M214.93,431.27L216.62,434.33L213.23,434.33Z" fill="#ee0a0a"/>
<path d="M221.45,430.60L223.15,433.66L219.75,433.66Z" fill="#ee0a0a"/>
<path d="M227.98,429.84L229.68,432.90L226.28,432.90Z" fill="#ee0a0a"/>
<path d="M234.50,428.98L236.20,432.04L232.80,432.04Z" fill="#ee0a0a"/>
<path d="M241.03,427.99L242.72,431.05L239.33,431.05Z" fill="#ee0a0a"/>
<path d="M247.55,426.87L249.25,429.93L245.85,429.93Z" fill="#ee0a0a"/>
<path d="M254.08,425.58L255.78,428.64L252.38,428.64Z" fill="#ee0a0a"/>
<path d="M260.60,424.11L262.30,427.17L258.90,427.17Z" fill="#ee0a0a"/>
<path d="M267.12,422.43L268.82,425.49L265.43,425.49Z" fill="#ee0a0a"/>
<path d="M273.65,420.52L275.35,423.58L271.95,423.58Z" fill="#ee0a0a"/>
<polyline points="60.44,470.32 61.23,469.67 62.03,469.02 62.83,468.39 63.64,467.75 64.45,467.13 65.26,466.51 66.08,465.90 66.90,465.30 67.73,464.70 68.56,464.11 69.39,463.53 70.23,462.95 71.07,462.38 71.92,461.82 72.77,461.26 73.63,460.71 74.49,460.17 75.35,459.63 76.21,459.10 77.08,458.57 77.96,458.05 78.83,457.54 79.71,457.03 80.60,456.53 81.49,456.04 82.38,455.55 83.27,455.07 84.17,454.59 85.07,454.12 85.97,453.66 86.88,453.20 87.79,452.75 88.70,452.30 89.62,451.86 90.54,451.42 91.46,450.99 92.39,450.57 93.31,450.15 94.24,449.74 95.18,449.33 96.11,448.93 97.05,448.53 97.99,448.14 98.94,447.75 99.88,447.37 100.83,446.99 101.78,446.62 102.74,446.25 103.69,445.89 104.65,445.53 105.61,445.18 106.57,444.83 107.54,444.49 108.50,444.16 109.47,443.82 110.44,443.49 111.41,443.17 112.39,442.85 113.36,442.54 114.34,442.23 115.32,441.92 116.30,441.62 117.28,441.33 118.27,441.03 119.25,440.75 120.24,440.46 121.23,440.18 122.22,439.91 123.21,439.64 124.20,439.37 125.20,439.11 126.19,438.85 127.19,438.59 128.18,438.34 129.18,438.09 130.18,437.85 131.18,437.61 132.18,437.37 133.19,437.14 134.19,436.91 135.19,436.69 136.20,436.46 137.21,436.25 138.21,436.03 139.22,435.82 140.23,435.61 141.24,435.41 142.25,435.20 143.26,435.01 144.27,434.81 145.29,434.62 146.30,434.43 147.31,434.24 148.33,434.06 149.35,433.88 150.36,433.71 151.38,433.53 152.40,433.36 153.41,433.19 154.43,433.03 155.45,432.87 156.47,432.71 157.49,432.55 158.52,432.39 159.54,432.24 160.56,432.09 161.58,431.95 162.60,431.80 163.63,431.66 164.65,431.52 165.67,431.38 166.70,431.25 167.72,431.12 168.75,430.99 169.77,430.86 170.80,430.73 171.83,430.61 172.85,430.49 173.88,430.37 174.90,430.25 175.93,430.13 176.96,430.02 177.98,429.91 179.01,429.80 180.04,429.69 181.06,429.58 182.09,429.48 183.12,429.38 184.15,429.27 185.17,429.17 186.20,429.08 187.23,428.98 188.25,428.88 189.28,428.79 190.31,428.69 191.33,428.60 192.36,428.51 193.39,428.42 194.41,428.33 195.44,428.24 196.46,428.15 197.49,428.06 198.51,427.97 199.54,427.88 200.56,427.79 201.59,427.71 202.61,427.62 203.64,427.53 204.66,427.44 205.69,427.36 206.71,427.27 207.73,427.18 208.75,427.09 209.78,427.00 210.80,426.91 211.82,426.82 212.84,426.72 213.86,426.63 214.88,426.54 215.90,426.44 216.92,426.34 217.94,426.25 218.96,426.15 219.98,426.05 220.99,425.94 222.01,425.84 223.03,425.73 224.04,425.63 225.06,425.52 226.07,425.40 227.08,425.29 228.10,425.18 229.11,425.06 230.12,424.94 231.13,424.81 232.14,424.69 233.15,424.56 234.16,424.43 235.17,424.30 236.18,424.16 237.19,424.02 238.19,423.88 239.20,423.73 240.20,423.58 241.21,423.43 242.21,423.28 243.21,423.12 244.21,422.95 245.21,422.79 246.21,422.62 247.21,422.44 248.21,422.27 249.21,422.08 250.20,421.90 251.20,421.71 252.19,421.51 253.18,421.31 254.18,421.11 255.17,420.90 256.16,420.69 257.15,420.47 258.13,420.25 259.12,420.02 260.11,419.79 261.09,419.55 262.07,419.31 263.06,419.07 264.04,418.81 265.02,418.55 266.00,418.29 266.97,418.02 267.95,417.75 268.93,417.46 269.90,417.18 270.87,416.89 271.84,416.59 272.81,416.28 273.78,415.97 274.75,415.65" fill="none" stroke="#1010dc" stroke-width="1.7" stroke-linejoin="round" stroke-linecap="round"/>
<polyline points="130.11,437.91 130.73,437.64 131.34,437.37 131.96,437.10 132.58,436.85 133.19,436.59 133.81,436.34 134.43,436.09 135.05,435.85 135.68,435.61 136.30,435.37 136.92,435.14 137.55,434.91 138.17,434.69 138.80,434.47 139.43,434.25 140.06,434.04 140.69,433.83 141.32,433.62 141.95,433.42 142.58,433.22 143.21,433.02 143.85,432.83 144.48,432.64 145.12,432.45 145.75,432.27 146.39,432.09 147.03,431.92 147.67,431.74 148.31,431.58 148.95,431.41 149.59,431.25 150.23,431.09 150.88,430.93 151.52,430.78 152.17,430.63 152.81,430.48 153.46,430.33 154.11,430.19 154.75,430.05 155.40,429.91 156.05,429.78 156.70,429.65 157.35,429.52 158.00,429.40 158.66,429.27 159.31,429.15 159.96,429.03 160.62,428.92 161.27,428.80 161.93,428.69 162.58,428.58 163.24,428.48 163.90,428.37 164.56,428.27 165.21,428.17 165.87,428.07 166.53,427.98 167.19,427.89 167.85,427.79 168.51,427.70 169.18,427.62 169.84,427.53 170.50,427.45 171.16,427.36 171.83,427.28 172.49,427.20 173.16,427.13 173.82,427.05 174.49,426.98 175.15,426.90 175.82,426.83 176.49,426.76 177.15,426.69 177.82,426.63 178.49,426.56 179.15,426.50 179.82,426.43 180.49,426.37 181.16,426.31 181.83,426.25 182.50,426.19 183.17,426.13 183.84,426.08 184.51,426.02 185.18,425.96 185.85,425.91 186.52,425.86 187.19,425.80 187.87,425.75 188.54,425.70 189.21,425.65 189.88,425.60 190.55,425.55 191.23,425.51 191.90,425.46 192.57,425.41 193.25,425.36 193.92,425.32 194.59,425.27 195.27,425.23 195.94,425.19 196.62,425.14 197.29,425.10 197.96,425.06 198.64,425.01 199.31,424.97 199.99,424.93 200.66,424.89 201.34,424.85 202.01,424.81 202.69,424.76 203.36,424.72 204.04,424.68 204.71,424.64 205.39,424.60 206.06,424.56 206.74,424.52 207.42,424.48 208.09,424.44 208.77,424.40 209.44,424.36 210.12,424.32 210.79,424.28 211.47,424.24 212.15,424.20 212.82,424.16 213.50,424.12 214.17,424.07 214.85,424.03 215.52,423.99 216.20,423.95 216.88,423.91 217.55,423.86 218.23,423.82 218.90,423.77 219.58,423.73 220.25,423.68 220.93,423.64 221.60,423.59 222.28,423.54 222.95,423.50 223.63,423.45 224.30,423.40 224.98,423.35 225.65,423.30 226.33,423.25 227.00,423.20 227.67,423.14 228.35,423.09 229.02,423.04 229.69,422.98 230.37,422.93 231.04,422.87 231.71,422.81 232.39,422.75 233.06,422.69 233.73,422.63 234.40,422.57 235.07,422.50 235.75,422.44 236.42,422.37 237.09,422.31 237.76,422.24 238.43,422.17 239.10,422.10 239.77,422.03 240.44,421.95 241.11,421.88 241.78,421.80 242.45,421.72 243.12,421.64 243.79,421.56 244.45,421.48 245.12,421.40 245.79,421.31 246.46,421.23 247.12,421.14 247.79,421.05 248.46,420.96 249.12,420.86 249.79,420.77 250.45,420.67 251.12,420.57 251.78,420.47 252.45,420.37 253.11,420.27 253.77,420.16 254.43,420.05 255.10,419.94 255.76,419.83 256.42,419.72 257.08,419.60 257.74,419.48 258.40,419.36 259.06,419.24 259.72,419.12 260.38,418.99 261.04,418.86 261.69,418.73 262.35,418.60 263.01,418.46 263.67,418.32 264.32,418.18 264.98,418.04 265.63,417.90 266.28,417.75 266.94,417.60 267.59,417.45 268.24,417.29 268.90,417.13 269.55,416.97 270.20,416.81 270.85,416.65 271.50,416.48 272.15,416.31 272.80,416.14 273.44,415.96 274.09,415.78 274.74,415.60" fill="none" stroke="#1010dc" stroke-width="1.7" stroke-linejoin="round" stroke-linecap="round"/>
<circle cx="64.85" cy="466.82" r="1.5" fill="#fff" stroke="#1010dc" stroke-width="0.9"/>
<circle cx="71.38" cy="462.18" r="1.5" fill="#fff" stroke="#1010dc" stroke-width="0.9"/>
<circle cx="77.90" cy="458.09" r="1.5" fill="#fff" stroke="#1010dc" stroke-width="0.9"/>
<circle cx="84.43" cy="454.46" r="1.5" fill="#fff" stroke="#1010dc" stroke-width="0.9"/>
<circle cx="90.95" cy="451.23" r="1.5" fill="#fff" stroke="#1010dc" stroke-width="0.9"/>
<circle cx="97.47" cy="448.35" r="1.5" fill="#fff" stroke="#1010dc" stroke-width="0.9"/>
<circle cx="104.00" cy="445.78" r="1.5" fill="#fff" stroke="#1010dc" stroke-width="0.9"/>
<circle cx="110.53" cy="443.47" r="1.5" fill="#fff" stroke="#1010dc" stroke-width="0.9"/>
<circle cx="117.05" cy="441.40" r="1.5" fill="#fff" stroke="#1010dc" stroke-width="0.9"/>
<circle cx="123.58" cy="439.54" r="1.5" fill="#fff" stroke="#1010dc" stroke-width="0.9"/>
<circle cx="130.10" cy="437.87" r="1.5" fill="#fff" stroke="#1010dc" stroke-width="0.9"/>
<circle cx="136.62" cy="436.37" r="1.5" fill="#fff" stroke="#1010dc" stroke-width="0.9"/>
<circle cx="145.32" cy="432.39" r="1.5" fill="#fff" stroke="#1010dc" stroke-width="0.9"/>
<circle cx="151.85" cy="430.70" r="1.5" fill="#fff" stroke="#1010dc" stroke-width="0.9"/>
<circle cx="158.38" cy="429.33" r="1.5" fill="#fff" stroke="#1010dc" stroke-width="0.9"/>
<circle cx="164.90" cy="428.22" r="1.5" fill="#fff" stroke="#1010dc" stroke-width="0.9"/>
<circle cx="171.43" cy="427.33" r="1.5" fill="#fff" stroke="#1010dc" stroke-width="0.9"/>
<circle cx="177.95" cy="426.61" r="1.5" fill="#fff" stroke="#1010dc" stroke-width="0.9"/>
<circle cx="184.48" cy="426.02" r="1.5" fill="#fff" stroke="#1010dc" stroke-width="0.9"/>
<circle cx="191.00" cy="425.52" r="1.5" fill="#fff" stroke="#1010dc" stroke-width="0.9"/>
<circle cx="197.53" cy="425.08" r="1.5" fill="#fff" stroke="#1010dc" stroke-width="0.9"/>
<circle cx="204.05" cy="424.68" r="1.5" fill="#fff" stroke="#1010dc" stroke-width="0.9"/>
<circle cx="210.58" cy="424.29" r="1.5" fill="#fff" stroke="#1010dc" stroke-width="0.9"/>
<circle cx="217.10" cy="423.89" r="1.5" fill="#fff" stroke="#1010dc" stroke-width="0.9"/>
<circle cx="223.63" cy="423.45" r="1.5" fill="#fff" stroke="#1010dc" stroke-width="0.9"/>
<circle cx="230.15" cy="422.94" r="1.5" fill="#fff" stroke="#1010dc" stroke-width="0.9"/>
<circle cx="236.68" cy="422.35" r="1.5" fill="#fff" stroke="#1010dc" stroke-width="0.9"/>
<circle cx="243.20" cy="421.63" r="1.5" fill="#fff" stroke="#1010dc" stroke-width="0.9"/>
<circle cx="249.73" cy="420.78" r="1.5" fill="#fff" stroke="#1010dc" stroke-width="0.9"/>
<circle cx="256.25" cy="419.74" r="1.5" fill="#fff" stroke="#1010dc" stroke-width="0.9"/>
<circle cx="262.78" cy="418.51" r="1.5" fill="#fff" stroke="#1010dc" stroke-width="0.9"/>
<circle cx="269.30" cy="417.04" r="1.5" fill="#fff" stroke="#1010dc" stroke-width="0.9"/>
<polyline points="60.48,473.96 61.34,473.38 62.21,472.81 63.07,472.25 63.94,471.69 64.81,471.14 65.68,470.60 66.55,470.06 67.43,469.54 68.31,469.02 69.19,468.51 70.07,468.00 70.95,467.50 71.84,467.02 72.73,466.53 73.62,466.06 74.51,465.59 75.41,465.13 76.31,464.68 77.20,464.23 78.11,463.79 79.01,463.36 79.91,462.93 80.82,462.51 81.73,462.10 82.64,461.69 83.55,461.29 84.47,460.90 85.38,460.51 86.30,460.13 87.22,459.76 88.14,459.39 89.07,459.03 89.99,458.68 90.92,458.33 91.85,457.99 92.78,457.65 93.71,457.32 94.65,457.00 95.58,456.68 96.52,456.37 97.46,456.06 98.40,455.76 99.35,455.46 100.29,455.17 101.24,454.89 102.18,454.61 103.13,454.34 104.08,454.07 105.03,453.81 105.99,453.55 106.94,453.30 107.90,453.06 108.86,452.81 109.82,452.58 110.78,452.35 111.74,452.12 112.70,451.90 113.67,451.68 114.63,451.47 115.60,451.27 116.57,451.07 117.54,450.87 118.51,450.68 119.48,450.49 120.46,450.30 121.43,450.13 122.41,449.95 123.39,449.78 124.36,449.62 125.34,449.45 126.32,449.30 127.31,449.14 128.29,449.00 129.27,448.85 130.26,448.71 131.25,448.57 132.23,448.44 133.22,448.31 134.21,448.18 135.20,448.06 136.19,447.94 137.19,447.83 138.18,447.72 139.17,447.61 140.17,447.51 141.16,447.41 142.16,447.31 143.16,447.21 144.16,447.12 145.16,447.04 146.16,446.95 147.16,446.87 148.16,446.79 149.16,446.72 150.16,446.64 151.17,446.57 152.17,446.51 153.18,446.44 154.18,446.38 155.19,446.32 156.20,446.27 157.21,446.21 158.22,446.16 159.22,446.11 160.23,446.07 161.24,446.02 162.25,445.98 163.27,445.94 164.28,445.90 165.29,445.87 166.30,445.83 167.32,445.80 168.33,445.77 169.34,445.75 170.36,445.72 171.37,445.70 172.39,445.67 173.40,445.65 174.42,445.63 175.43,445.62 176.45,445.60 177.47,445.59 178.48,445.57 179.50,445.56 180.52,445.55 181.54,445.54 182.55,445.54 183.57,445.53 184.59,445.52 185.61,445.52 186.63,445.52 187.65,445.51 188.66,445.51 189.68,445.51 190.70,445.51 191.72,445.51 192.74,445.51 193.76,445.51 194.78,445.52 195.79,445.52 196.81,445.52 197.83,445.53 198.85,445.53 199.87,445.53 200.89,445.54 201.91,445.54 202.92,445.55 203.94,445.55 204.96,445.56 205.98,445.56 206.99,445.57 208.01,445.57 209.03,445.58 210.04,445.58 211.06,445.58 212.08,445.59 213.09,445.59 214.11,445.59 215.12,445.60 216.14,445.60 217.15,445.60 218.16,445.60 219.18,445.60 220.19,445.60 221.20,445.59 222.22,445.59 223.23,445.59 224.24,445.58 225.25,445.58 226.26,445.57 227.27,445.56 228.28,445.55 229.28,445.54 230.29,445.53 231.30,445.51 232.31,445.50 233.31,445.48 234.32,445.46 235.32,445.44 236.32,445.42 237.33,445.40 238.33,445.38 239.33,445.35 240.33,445.32 241.33,445.29 242.33,445.26 243.33,445.22 244.33,445.19 245.32,445.15 246.32,445.11 247.31,445.06 248.31,445.02 249.30,444.97 250.29,444.92 251.28,444.87 252.27,444.81 253.26,444.76 254.25,444.70 255.24,444.63 256.22,444.57 257.21,444.50 258.19,444.43 259.17,444.35 260.15,444.28 261.14,444.20 262.11,444.11 263.09,444.03 264.07,443.94 265.05,443.85 266.02,443.75 266.99,443.65 267.96,443.55 268.94,443.44 269.90,443.33 270.87,443.22 271.84,443.10 272.81,442.98 273.77,442.86 274.73,442.73" fill="none" stroke="#000" stroke-width="2.7" stroke-linejoin="round" stroke-linecap="round"/>
<path d="M60.47,472.50H64.88M62.67,470.30V474.70M61.17,471.00L64.17,474.00M61.17,474.00L64.17,471.00" stroke="#000" stroke-width="1.0"/>
<path d="M64.83,469.78H69.23M67.03,467.58V471.98M65.53,468.28L68.53,471.28M65.53,471.28L68.53,468.28" stroke="#000" stroke-width="1.0"/>
<path d="M69.17,467.27H73.58M71.38,465.07V469.47M69.88,465.77L72.88,468.77M69.88,468.77L72.88,465.77" stroke="#000" stroke-width="1.0"/>
<path d="M73.52,464.97H77.92M75.72,462.77V467.17M74.22,463.47L77.22,466.47M74.22,466.47L77.22,463.47" stroke="#000" stroke-width="1.0"/>
<path d="M77.87,462.86H82.27M80.07,460.66V465.06M78.57,461.36L81.57,464.36M78.57,464.36L81.57,461.36" stroke="#000" stroke-width="1.0"/>
<path d="M82.22,460.92H86.62M84.42,458.72V463.12M82.92,459.42L85.92,462.42M82.92,462.42L85.92,459.42" stroke="#000" stroke-width="1.0"/>
<path d="M86.57,459.15H90.97M88.77,456.95V461.35M87.27,457.65L90.27,460.65M87.27,460.65L90.27,457.65" stroke="#000" stroke-width="1.0"/>
<path d="M90.92,457.53H95.33M93.12,455.33V459.73M91.62,456.03L94.62,459.03M91.62,459.03L94.62,456.03" stroke="#000" stroke-width="1.0"/>
<path d="M95.27,456.06H99.67M97.47,453.86V458.26M95.97,454.56L98.97,457.56M95.97,457.56L98.97,454.56" stroke="#000" stroke-width="1.0"/>
<path d="M99.62,454.72H104.02M101.82,452.52V456.92M100.32,453.22L103.32,456.22M100.32,456.22L103.32,453.22" stroke="#000" stroke-width="1.0"/>
<path d="M103.97,453.50H108.37M106.17,451.30V455.70M104.67,452.00L107.67,455.00M104.67,455.00L107.67,452.00" stroke="#000" stroke-width="1.0"/>
<path d="M108.33,452.41H112.73M110.53,450.21V454.61M109.03,450.91L112.03,453.91M109.03,453.91L112.03,450.91" stroke="#000" stroke-width="1.0"/>
<path d="M112.67,451.42H117.08M114.88,449.22V453.62M113.38,449.92L116.38,452.92M113.38,452.92L116.38,449.92" stroke="#000" stroke-width="1.0"/>
<path d="M117.02,450.54H121.42M119.22,448.34V452.74M117.72,449.04L120.72,452.04M117.72,452.04L120.72,449.04" stroke="#000" stroke-width="1.0"/>
<path d="M121.37,449.75H125.77M123.57,447.55V451.95M122.07,448.25L125.07,451.25M122.07,451.25L125.07,448.25" stroke="#000" stroke-width="1.0"/>
<path d="M125.72,449.05H130.12M127.92,446.85V451.25M126.42,447.55L129.42,450.55M126.42,450.55L129.42,447.55" stroke="#000" stroke-width="1.0"/>
<path d="M130.07,448.43H134.47M132.27,446.23V450.63M130.77,446.93L133.77,449.93M130.77,449.93L133.77,446.93" stroke="#000" stroke-width="1.0"/>
<path d="M134.43,447.89H138.82M136.62,445.69V450.09M135.12,446.39L138.12,449.39M135.12,449.39L138.12,446.39" stroke="#000" stroke-width="1.0"/>
<path d="M138.77,447.42H143.17M140.97,445.22V449.62M139.47,445.92L142.47,448.92M139.47,448.92L142.47,445.92" stroke="#000" stroke-width="1.0"/>
<path d="M143.12,447.02H147.52M145.32,444.82V449.22M143.82,445.52L146.82,448.52M143.82,448.52L146.82,445.52" stroke="#000" stroke-width="1.0"/>
<path d="M147.47,446.68H151.87M149.67,444.48V448.88M148.17,445.18L151.17,448.18M148.17,448.18L151.17,445.18" stroke="#000" stroke-width="1.0"/>
<path d="M151.82,446.39H156.22M154.02,444.19V448.59M152.52,444.89L155.52,447.89M152.52,447.89L155.52,444.89" stroke="#000" stroke-width="1.0"/>
<path d="M156.18,446.15H160.57M158.38,443.95V448.35M156.88,444.65L159.88,447.65M156.88,447.65L159.88,444.65" stroke="#000" stroke-width="1.0"/>
<path d="M160.52,445.96H164.92M162.72,443.76V448.16M161.22,444.46L164.22,447.46M161.22,447.46L164.22,444.46" stroke="#000" stroke-width="1.0"/>
<path d="M164.88,445.81H169.27M167.07,443.61V448.01M165.57,444.31L168.57,447.31M165.57,447.31L168.57,444.31" stroke="#000" stroke-width="1.0"/>
<path d="M169.22,445.69H173.62M171.42,443.49V447.89M169.92,444.19L172.92,447.19M169.92,447.19L172.92,444.19" stroke="#000" stroke-width="1.0"/>
<path d="M173.57,445.61H177.97M175.77,443.41V447.81M174.27,444.11L177.27,447.11M174.27,447.11L177.27,444.11" stroke="#000" stroke-width="1.0"/>
<path d="M177.93,445.56H182.32M180.12,443.36V447.76M178.62,444.06L181.62,447.06M178.62,447.06L181.62,444.06" stroke="#000" stroke-width="1.0"/>
<path d="M182.28,445.52H186.67M184.47,443.32V447.72M182.97,444.02L185.97,447.02M182.97,447.02L185.97,444.02" stroke="#000" stroke-width="1.0"/>
<path d="M186.62,445.51H191.02M188.82,443.31V447.71M187.32,444.01L190.32,447.01M187.32,447.01L190.32,444.01" stroke="#000" stroke-width="1.0"/>
<path d="M190.97,445.51H195.37M193.17,443.31V447.71M191.67,444.01L194.67,447.01M191.67,447.01L194.67,444.01" stroke="#000" stroke-width="1.0"/>
<path d="M195.32,445.52H199.72M197.52,443.32V447.72M196.02,444.02L199.02,447.02M196.02,447.02L199.02,444.02" stroke="#000" stroke-width="1.0"/>
<path d="M199.67,445.54H204.07M201.87,443.34V447.74M200.37,444.04L203.37,447.04M200.37,447.04L203.37,444.04" stroke="#000" stroke-width="1.0"/>
<path d="M204.03,445.56H208.42M206.22,443.36V447.76M204.72,444.06L207.72,447.06M204.72,447.06L207.72,444.06" stroke="#000" stroke-width="1.0"/>
<path d="M208.38,445.58H212.77M210.57,443.38V447.78M209.07,444.08L212.07,447.08M209.07,447.08L212.07,444.08" stroke="#000" stroke-width="1.0"/>
<path d="M212.72,445.60H217.12M214.92,443.40V447.80M213.42,444.10L216.42,447.10M213.42,447.10L216.42,444.10" stroke="#000" stroke-width="1.0"/>
<path d="M217.07,445.60H221.47M219.27,443.40V447.80M217.77,444.10L220.77,447.10M217.77,447.10L220.77,444.10" stroke="#000" stroke-width="1.0"/>
<path d="M221.42,445.58H225.82M223.62,443.38V447.78M222.12,444.08L225.12,447.08M222.12,447.08L225.12,444.08" stroke="#000" stroke-width="1.0"/>
<path d="M225.77,445.55H230.17M227.97,443.35V447.75M226.47,444.05L229.47,447.05M226.47,447.05L229.47,444.05" stroke="#000" stroke-width="1.0"/>
<path d="M230.12,445.50H234.52M232.32,443.30V447.70M230.82,444.00L233.82,447.00M230.82,447.00L233.82,444.00" stroke="#000" stroke-width="1.0"/>
<path d="M234.47,445.42H238.87M236.67,443.22V447.62M235.17,443.92L238.17,446.92M235.17,446.92L238.17,443.92" stroke="#000" stroke-width="1.0"/>
<path d="M238.82,445.30H243.22M241.02,443.10V447.50M239.52,443.80L242.52,446.80M239.52,446.80L242.52,443.80" stroke="#000" stroke-width="1.0"/>
<path d="M243.17,445.15H247.57M245.37,442.95V447.35M243.87,443.65L246.87,446.65M243.87,446.65L246.87,443.65" stroke="#000" stroke-width="1.0"/>
<path d="M247.52,444.95H251.92M249.72,442.75V447.15M248.22,443.45L251.22,446.45M248.22,446.45L251.22,443.45" stroke="#000" stroke-width="1.0"/>
<path d="M251.88,444.71H256.27M254.07,442.51V446.91M252.57,443.21L255.57,446.21M252.57,446.21L255.57,443.21" stroke="#000" stroke-width="1.0"/>
<path d="M256.22,444.41H260.62M258.42,442.21V446.61M256.92,442.91L259.92,445.91M256.92,445.91L259.92,442.91" stroke="#000" stroke-width="1.0"/>
<path d="M260.57,444.06H264.97M262.77,441.86V446.26M261.27,442.56L264.27,445.56M261.27,445.56L264.27,442.56" stroke="#000" stroke-width="1.0"/>
<path d="M264.93,443.64H269.32M267.12,441.44V445.84M265.62,442.14L268.62,445.14M265.62,445.14L268.62,442.14" stroke="#000" stroke-width="1.0"/>
<path d="M269.27,443.15H273.67M271.47,440.95V445.35M269.97,441.65L272.97,444.65M269.97,444.65L272.97,441.65" stroke="#000" stroke-width="1.0"/>
<path d="M273.62,442.73H278.02M275.82,440.53V444.93M274.32,441.23L277.32,444.23M274.32,444.23L277.32,441.23" stroke="#000" stroke-width="1.0"/>
<line x1="302.6" y1="377.8" x2="326.8" y2="377.8" stroke="#b8262a" stroke-width="2.0"/>
<path d="M315.20,376.10L316.90,379.16L313.50,379.16Z" fill="#ee0a0a"/>
<text x="329.6" y="381.70" class="lg">SiO<tspan class="ls">2</tspan>(4%)/TiO<tspan class="ls">2</tspan></text>
<line x1="302.6" y1="402.4" x2="326.8" y2="402.4" stroke="#12128e" stroke-width="2.0"/>
<circle cx="315.20" cy="402.40" r="1.5" fill="#fff" stroke="#1010dc" stroke-width="0.9"/>
<text x="329.6" y="406.30" class="lg">SiO<tspan class="ls">2</tspan>(2%)/TiO<tspan class="ls">2</tspan></text>
<line x1="302.6" y1="427.5" x2="326.8" y2="427.5" stroke="#000" stroke-width="2.3"/>
<path d="M313.4,425.90L317.6,430.10M313.4,430.10L317.6,425.90M315.5,425.30V429.70" stroke="#000" stroke-width="0.9"/>
<text x="329.6" y="431.40" class="lg"><tspan style="font-size:10px" dx="-0.7">starting</tspan>&#160;<tspan dx="1.8">TiO</tspan><tspan class="ls">2</tspan></text>
</svg>
</body></html>
